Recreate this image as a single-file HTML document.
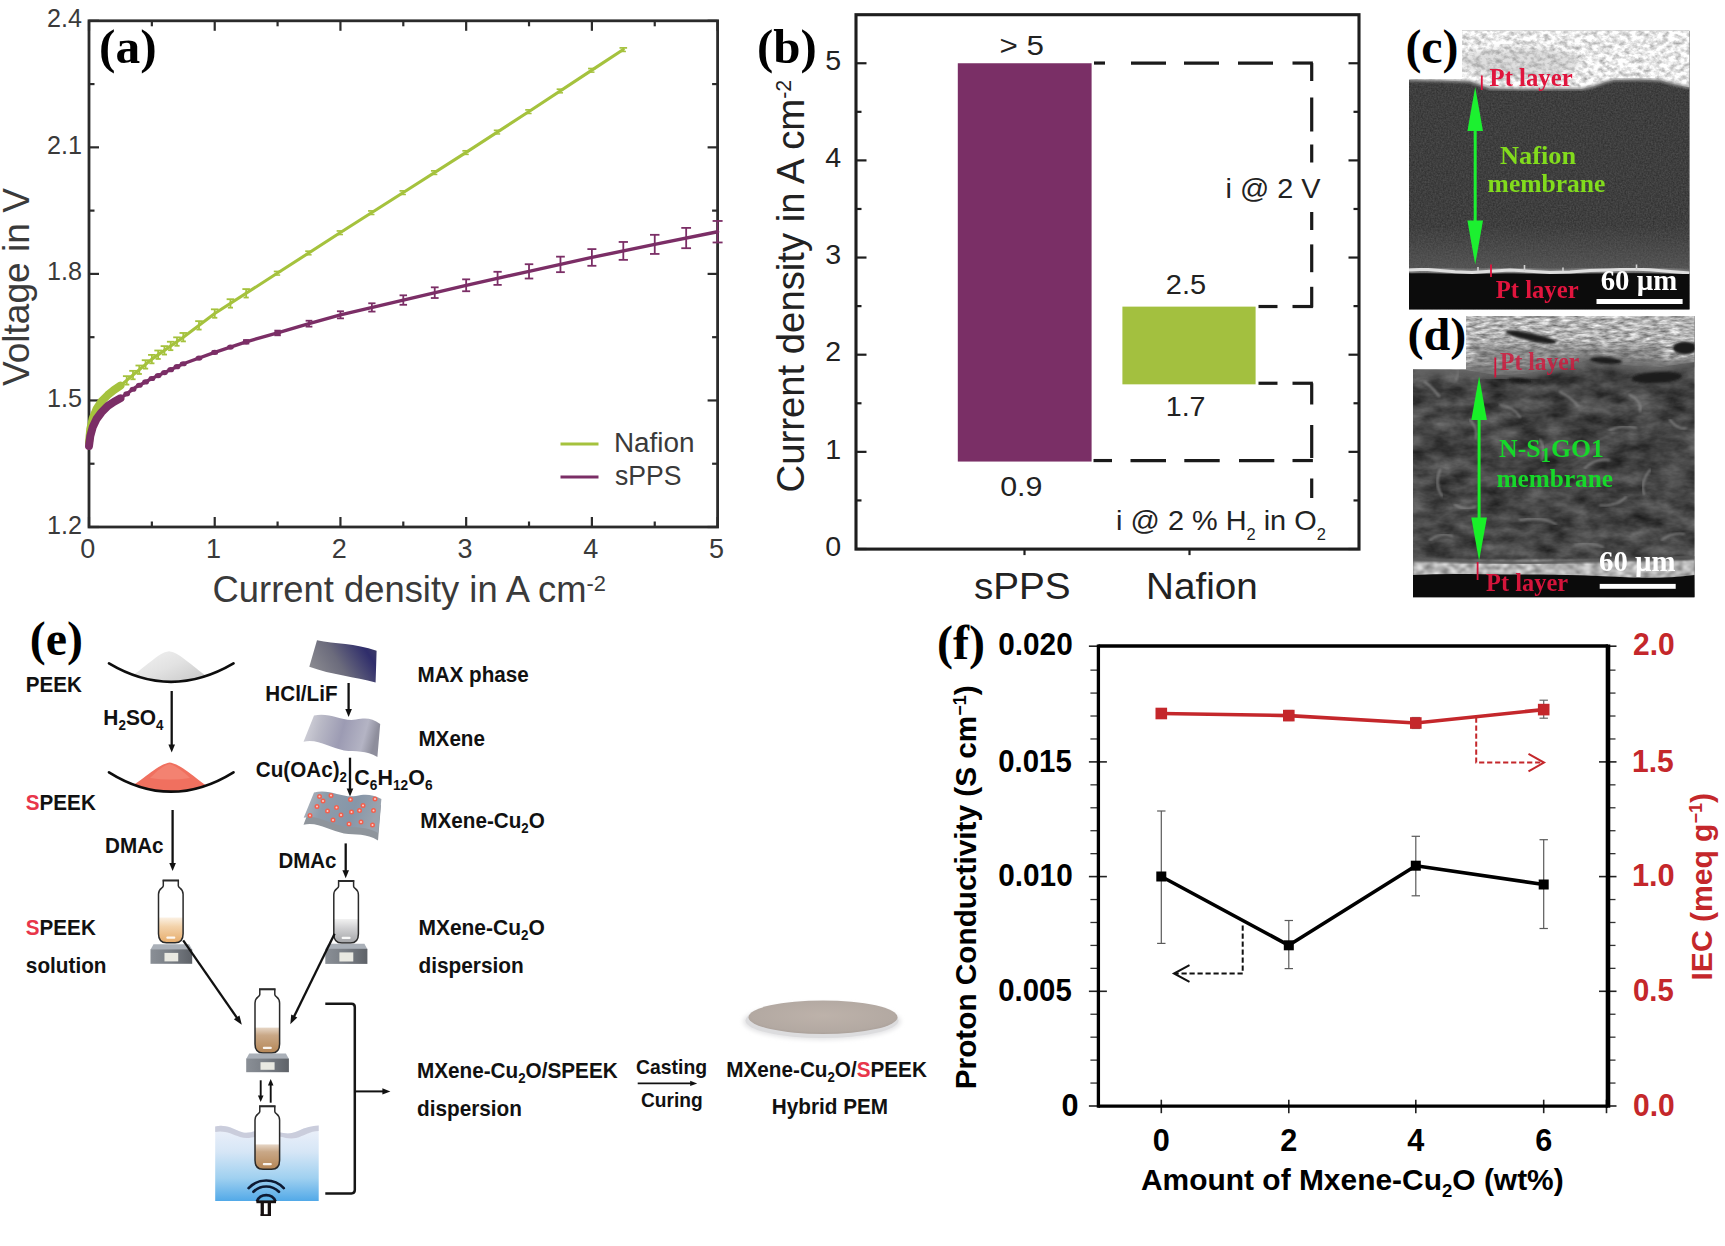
<!DOCTYPE html>
<html lang="en"><head><meta charset="utf-8"><title>Figure</title>
<style>html,body{margin:0;padding:0;background:#fff;}svg{display:block;}text{white-space:pre;}</style></head>
<body>
<svg width="1725" height="1246" viewBox="0 0 1725 1246">
<defs>
<filter id="f_ctop" x="0" y="0" width="100%" height="100%" color-interpolation-filters="sRGB">
  <feTurbulence type="fractalNoise" baseFrequency="0.16 0.22" numOctaves="3" seed="7" result="n"/>
  <feColorMatrix in="n" type="matrix" values="0.7 0 0 0 0.56  0.7 0 0 0 0.56  0.7 0 0 0 0.56  0 0 0 0 1"/>
</filter>
<filter id="f_cmem" x="0" y="0" width="100%" height="100%" color-interpolation-filters="sRGB">
  <feTurbulence type="fractalNoise" baseFrequency="0.6" numOctaves="2" seed="3" result="n"/>
  <feColorMatrix in="n" type="matrix" values="0.16 0 0 0 0.165  0.16 0 0 0 0.165  0.16 0 0 0 0.165  0 0 0 0 1"/>
</filter>
<filter id="f_dtop" x="0" y="0" width="100%" height="100%" color-interpolation-filters="sRGB">
  <feTurbulence type="fractalNoise" baseFrequency="0.1 0.32" numOctaves="3" seed="11" result="n"/>
  <feColorMatrix in="n" type="matrix" values="0.75 0 0 0 0.33  0.75 0 0 0 0.33  0.75 0 0 0 0.33  0 0 0 0 1"/>
</filter>
<filter id="f_dmem" x="0" y="0" width="100%" height="100%" color-interpolation-filters="sRGB">
  <feTurbulence type="fractalNoise" baseFrequency="0.035 0.07" numOctaves="4" seed="5" result="n"/>
  <feColorMatrix in="n" type="matrix" values="0.42 0 0 0 0.06  0.42 0 0 0 0.06  0.42 0 0 0 0.06  0 0 0 0 1"/>
</filter>
<filter id="f_dbot" x="0" y="0" width="100%" height="100%" color-interpolation-filters="sRGB">
  <feTurbulence type="fractalNoise" baseFrequency="0.12 0.3" numOctaves="3" seed="9" result="n"/>
  <feColorMatrix in="n" type="matrix" values="0.8 0 0 0 0.3  0.8 0 0 0 0.3  0.8 0 0 0 0.3  0 0 0 0 1"/>
</filter>
<filter id="blur1" x="-10%" y="-10%" width="120%" height="120%"><feGaussianBlur stdDeviation="1"/></filter>
<filter id="blur06" x="-10%" y="-10%" width="120%" height="120%"><feGaussianBlur stdDeviation="0.6"/></filter>
<filter id="blur2" x="-10%" y="-10%" width="120%" height="120%"><feGaussianBlur stdDeviation="2"/></filter>
<filter id="blur3" x="-20%" y="-20%" width="140%" height="140%"><feGaussianBlur stdDeviation="3"/></filter>
<clipPath id="clipC"><rect x="1409" y="30.8" width="280.6" height="278.8"/></clipPath>
<clipPath id="clipD"><rect x="1413" y="316" width="281.6" height="281.2"/></clipPath>
<linearGradient id="g_pow" x1="0" y1="0" x2="1" y2="1">
  <stop offset="0" stop-color="#f4f4f4"/><stop offset="0.45" stop-color="#e2e2e2"/><stop offset="1" stop-color="#bdbdbd"/>
</linearGradient>
<linearGradient id="g_liqO" x1="0" y1="0" x2="0" y2="1">
  <stop offset="0" stop-color="#fbf1e4"/><stop offset="0.35" stop-color="#f3d3ab"/><stop offset="1" stop-color="#e6ab6a"/>
</linearGradient>
<linearGradient id="g_liqG" x1="0" y1="0" x2="0" y2="1">
  <stop offset="0" stop-color="#f2f2f2"/><stop offset="0.4" stop-color="#cfcfd1"/><stop offset="1" stop-color="#a4a5a8"/>
</linearGradient>
<linearGradient id="g_liqB" x1="0" y1="0" x2="0" y2="1">
  <stop offset="0" stop-color="#e6d6c6"/><stop offset="0.3" stop-color="#c9a887"/><stop offset="1" stop-color="#b58656"/>
</linearGradient>
<linearGradient id="g_plate" x1="0" y1="0" x2="1" y2="0">
  <stop offset="0" stop-color="#8a8f96"/><stop offset="0.5" stop-color="#787d84"/><stop offset="1" stop-color="#5e6268"/>
</linearGradient>
<linearGradient id="g_max" x1="0" y1="0.6" x2="1" y2="0.2">
  <stop offset="0" stop-color="#8a8a90"/><stop offset="0.4" stop-color="#6b6b7c"/><stop offset="0.85" stop-color="#2f2d6b"/><stop offset="1" stop-color="#3c3b66"/>
</linearGradient>
<linearGradient id="g_mx" x1="0" y1="0" x2="1" y2="0.15">
  <stop offset="0" stop-color="#d9d9df"/><stop offset="0.25" stop-color="#b9b9c6"/><stop offset="0.55" stop-color="#9c9bb3"/><stop offset="0.85" stop-color="#b4b4c4"/><stop offset="1" stop-color="#8e8e9c"/>
</linearGradient>
<linearGradient id="g_mxcu" x1="0" y1="0" x2="1" y2="0.2">
  <stop offset="0" stop-color="#b4b9c0"/><stop offset="0.3" stop-color="#8e9cab"/><stop offset="0.7" stop-color="#8696a8"/><stop offset="1" stop-color="#9aa3ae"/>
</linearGradient>
<linearGradient id="g_water" x1="0" y1="0" x2="0" y2="1">
  <stop offset="0" stop-color="#eef1fa"/><stop offset="0.35" stop-color="#d6e6f6"/><stop offset="0.7" stop-color="#9fd0f0"/><stop offset="1" stop-color="#52a9e8"/>
</linearGradient>
<radialGradient id="g_disc" cx="0.5" cy="0.45" r="0.6">
  <stop offset="0" stop-color="#bdb2aa"/><stop offset="0.8" stop-color="#b3a9a2"/><stop offset="1" stop-color="#a59b95"/>
</radialGradient>
<filter id="blur04" x="-5%" y="-20%" width="110%" height="140%"><feGaussianBlur stdDeviation="0.45"/></filter>
<linearGradient id="g_cfade" x1="0" y1="0" x2="0" y2="1"><stop offset="0" stop-color="#6a6a6a" stop-opacity="0"/><stop offset="1" stop-color="#6a6a6a" stop-opacity="0.55"/></linearGradient>
</defs>
<rect width="1725" height="1246" fill="#fff"/>
<g id="panel-a">
<rect x="89.00" y="20.80" width="628.60" height="506.20" fill="none" stroke="#2b2b2b" stroke-width="2.8"/>
<line x1="89.00" y1="527.00" x2="89.00" y2="517.00" stroke="#2b2b2b" stroke-width="2.20" />
<line x1="89.00" y1="20.80" x2="89.00" y2="30.80" stroke="#2b2b2b" stroke-width="2.20" />
<line x1="151.86" y1="527.00" x2="151.86" y2="521.50" stroke="#2b2b2b" stroke-width="2.20" />
<line x1="151.86" y1="20.80" x2="151.86" y2="26.30" stroke="#2b2b2b" stroke-width="2.20" />
<line x1="214.72" y1="527.00" x2="214.72" y2="517.00" stroke="#2b2b2b" stroke-width="2.20" />
<line x1="214.72" y1="20.80" x2="214.72" y2="30.80" stroke="#2b2b2b" stroke-width="2.20" />
<line x1="277.58" y1="527.00" x2="277.58" y2="521.50" stroke="#2b2b2b" stroke-width="2.20" />
<line x1="277.58" y1="20.80" x2="277.58" y2="26.30" stroke="#2b2b2b" stroke-width="2.20" />
<line x1="340.44" y1="527.00" x2="340.44" y2="517.00" stroke="#2b2b2b" stroke-width="2.20" />
<line x1="340.44" y1="20.80" x2="340.44" y2="30.80" stroke="#2b2b2b" stroke-width="2.20" />
<line x1="403.30" y1="527.00" x2="403.30" y2="521.50" stroke="#2b2b2b" stroke-width="2.20" />
<line x1="403.30" y1="20.80" x2="403.30" y2="26.30" stroke="#2b2b2b" stroke-width="2.20" />
<line x1="466.16" y1="527.00" x2="466.16" y2="517.00" stroke="#2b2b2b" stroke-width="2.20" />
<line x1="466.16" y1="20.80" x2="466.16" y2="30.80" stroke="#2b2b2b" stroke-width="2.20" />
<line x1="529.02" y1="527.00" x2="529.02" y2="521.50" stroke="#2b2b2b" stroke-width="2.20" />
<line x1="529.02" y1="20.80" x2="529.02" y2="26.30" stroke="#2b2b2b" stroke-width="2.20" />
<line x1="591.88" y1="527.00" x2="591.88" y2="517.00" stroke="#2b2b2b" stroke-width="2.20" />
<line x1="591.88" y1="20.80" x2="591.88" y2="30.80" stroke="#2b2b2b" stroke-width="2.20" />
<line x1="654.74" y1="527.00" x2="654.74" y2="521.50" stroke="#2b2b2b" stroke-width="2.20" />
<line x1="654.74" y1="20.80" x2="654.74" y2="26.30" stroke="#2b2b2b" stroke-width="2.20" />
<line x1="717.60" y1="527.00" x2="717.60" y2="517.00" stroke="#2b2b2b" stroke-width="2.20" />
<line x1="717.60" y1="20.80" x2="717.60" y2="30.80" stroke="#2b2b2b" stroke-width="2.20" />
<line x1="89.00" y1="527.00" x2="99.00" y2="527.00" stroke="#2b2b2b" stroke-width="2.20" />
<line x1="717.60" y1="527.00" x2="707.60" y2="527.00" stroke="#2b2b2b" stroke-width="2.20" />
<line x1="89.00" y1="463.73" x2="94.50" y2="463.73" stroke="#2b2b2b" stroke-width="2.20" />
<line x1="717.60" y1="463.73" x2="712.10" y2="463.73" stroke="#2b2b2b" stroke-width="2.20" />
<line x1="89.00" y1="400.45" x2="99.00" y2="400.45" stroke="#2b2b2b" stroke-width="2.20" />
<line x1="717.60" y1="400.45" x2="707.60" y2="400.45" stroke="#2b2b2b" stroke-width="2.20" />
<line x1="89.00" y1="337.18" x2="94.50" y2="337.18" stroke="#2b2b2b" stroke-width="2.20" />
<line x1="717.60" y1="337.18" x2="712.10" y2="337.18" stroke="#2b2b2b" stroke-width="2.20" />
<line x1="89.00" y1="273.90" x2="99.00" y2="273.90" stroke="#2b2b2b" stroke-width="2.20" />
<line x1="717.60" y1="273.90" x2="707.60" y2="273.90" stroke="#2b2b2b" stroke-width="2.20" />
<line x1="89.00" y1="210.62" x2="94.50" y2="210.62" stroke="#2b2b2b" stroke-width="2.20" />
<line x1="717.60" y1="210.62" x2="712.10" y2="210.62" stroke="#2b2b2b" stroke-width="2.20" />
<line x1="89.00" y1="147.35" x2="99.00" y2="147.35" stroke="#2b2b2b" stroke-width="2.20" />
<line x1="717.60" y1="147.35" x2="707.60" y2="147.35" stroke="#2b2b2b" stroke-width="2.20" />
<line x1="89.00" y1="84.07" x2="94.50" y2="84.07" stroke="#2b2b2b" stroke-width="2.20" />
<line x1="717.60" y1="84.07" x2="712.10" y2="84.07" stroke="#2b2b2b" stroke-width="2.20" />
<line x1="89.00" y1="20.80" x2="99.00" y2="20.80" stroke="#2b2b2b" stroke-width="2.20" />
<line x1="717.60" y1="20.80" x2="707.60" y2="20.80" stroke="#2b2b2b" stroke-width="2.20" />
<text transform="translate(87.80,557.60) scale(1.0000,1)" text-anchor="middle" font-family="'Liberation Sans', Arial, Helvetica, sans-serif" font-size="27.00" font-weight="normal" fill="#3a3a3a">0</text>
<text transform="translate(213.52,557.60) scale(1.0000,1)" text-anchor="middle" font-family="'Liberation Sans', Arial, Helvetica, sans-serif" font-size="27.00" font-weight="normal" fill="#3a3a3a">1</text>
<text transform="translate(339.24,557.60) scale(1.0000,1)" text-anchor="middle" font-family="'Liberation Sans', Arial, Helvetica, sans-serif" font-size="27.00" font-weight="normal" fill="#3a3a3a">2</text>
<text transform="translate(464.96,557.60) scale(1.0000,1)" text-anchor="middle" font-family="'Liberation Sans', Arial, Helvetica, sans-serif" font-size="27.00" font-weight="normal" fill="#3a3a3a">3</text>
<text transform="translate(590.68,557.60) scale(1.0000,1)" text-anchor="middle" font-family="'Liberation Sans', Arial, Helvetica, sans-serif" font-size="27.00" font-weight="normal" fill="#3a3a3a">4</text>
<text transform="translate(716.40,557.60) scale(1.0000,1)" text-anchor="middle" font-family="'Liberation Sans', Arial, Helvetica, sans-serif" font-size="27.00" font-weight="normal" fill="#3a3a3a">5</text>
<text transform="translate(82.00,27.30) scale(0.9500,1)" text-anchor="end" font-family="'Liberation Sans', Arial, Helvetica, sans-serif" font-size="26.50" font-weight="normal" fill="#3a3a3a">2.4</text>
<text transform="translate(82.00,153.85) scale(0.9500,1)" text-anchor="end" font-family="'Liberation Sans', Arial, Helvetica, sans-serif" font-size="26.50" font-weight="normal" fill="#3a3a3a">2.1</text>
<text transform="translate(82.00,280.40) scale(0.9500,1)" text-anchor="end" font-family="'Liberation Sans', Arial, Helvetica, sans-serif" font-size="26.50" font-weight="normal" fill="#3a3a3a">1.8</text>
<text transform="translate(82.00,406.95) scale(0.9500,1)" text-anchor="end" font-family="'Liberation Sans', Arial, Helvetica, sans-serif" font-size="26.50" font-weight="normal" fill="#3a3a3a">1.5</text>
<text transform="translate(82.00,533.50) scale(0.9500,1)" text-anchor="end" font-family="'Liberation Sans', Arial, Helvetica, sans-serif" font-size="26.50" font-weight="normal" fill="#3a3a3a">1.2</text>
<text id="a_xl" transform="translate(212.51,601.60) scale(0.9969,1)" font-family="'Liberation Sans', Arial, Helvetica, sans-serif" font-size="36.50" font-weight="normal" fill="#3a3a3a" >Current density in A cm<tspan dy="-0.49em" font-size="60%">-2</tspan><tspan dy="0.294em">&#8203;</tspan></text>
<text id="a_yl" transform="translate(29.00,386.00) rotate(-90) scale(1.0077,1)" font-family="'Liberation Sans', Arial, Helvetica, sans-serif" font-size="36.80" font-weight="normal" fill="#3a3a3a" >Voltage in V</text>
<path d="M89.00,442.63 L90.26,429.13 L92.77,418.17 L96.54,408.89 L101.57,401.29 L107.86,394.97 L114.14,389.90 L120.43,385.69 L151.86,359.11 L183.29,337.18 L214.72,313.55 L277.58,273.06 L340.44,232.56 L403.30,192.49 L466.16,152.41 L529.02,111.49 L591.88,70.15 L623.31,49.48" fill="none" stroke="#a5c23d" stroke-width="3.10" stroke-linejoin="round" stroke-linecap="round"/>
<path d="M89.00,442.63 L90.26,429.13 L92.77,418.17 L96.54,408.89 L101.57,401.29 L107.86,394.97 L114.14,389.90 L120.43,385.69" fill="none" stroke="#a5c23d" stroke-width="8.00" stroke-linejoin="round" stroke-linecap="round"/>
<path d="M89.00,442.63 L90.26,429.13 L92.77,418.17 L96.54,408.89" fill="none" stroke="#a5c23d" stroke-width="5.00" stroke-linejoin="round" stroke-linecap="round"/>
<line x1="126.72" y1="384.59" x2="126.72" y2="376.15" stroke="#a5c23d" stroke-width="1.80" />
<line x1="122.92" y1="376.15" x2="130.52" y2="376.15" stroke="#a5c23d" stroke-width="1.80" />
<line x1="124.12" y1="384.59" x2="129.32" y2="384.59" stroke="#a5c23d" stroke-width="1.80" />
<line x1="133.00" y1="379.27" x2="133.00" y2="370.84" stroke="#a5c23d" stroke-width="1.80" />
<line x1="129.20" y1="370.84" x2="136.80" y2="370.84" stroke="#a5c23d" stroke-width="1.80" />
<line x1="130.40" y1="379.27" x2="135.60" y2="379.27" stroke="#a5c23d" stroke-width="1.80" />
<line x1="139.29" y1="373.96" x2="139.29" y2="365.52" stroke="#a5c23d" stroke-width="1.80" />
<line x1="135.49" y1="365.52" x2="143.09" y2="365.52" stroke="#a5c23d" stroke-width="1.80" />
<line x1="136.69" y1="373.96" x2="141.89" y2="373.96" stroke="#a5c23d" stroke-width="1.80" />
<line x1="145.57" y1="368.64" x2="145.57" y2="360.21" stroke="#a5c23d" stroke-width="1.80" />
<line x1="141.77" y1="360.21" x2="149.37" y2="360.21" stroke="#a5c23d" stroke-width="1.80" />
<line x1="142.97" y1="368.64" x2="148.17" y2="368.64" stroke="#a5c23d" stroke-width="1.80" />
<line x1="151.86" y1="363.33" x2="151.86" y2="354.89" stroke="#a5c23d" stroke-width="1.80" />
<line x1="148.06" y1="354.89" x2="155.66" y2="354.89" stroke="#a5c23d" stroke-width="1.80" />
<line x1="149.26" y1="363.33" x2="154.46" y2="363.33" stroke="#a5c23d" stroke-width="1.80" />
<line x1="158.15" y1="358.94" x2="158.15" y2="350.50" stroke="#a5c23d" stroke-width="1.80" />
<line x1="154.35" y1="350.50" x2="161.95" y2="350.50" stroke="#a5c23d" stroke-width="1.80" />
<line x1="155.55" y1="358.94" x2="160.75" y2="358.94" stroke="#a5c23d" stroke-width="1.80" />
<line x1="164.43" y1="354.55" x2="164.43" y2="346.12" stroke="#a5c23d" stroke-width="1.80" />
<line x1="160.63" y1="346.12" x2="168.23" y2="346.12" stroke="#a5c23d" stroke-width="1.80" />
<line x1="161.83" y1="354.55" x2="167.03" y2="354.55" stroke="#a5c23d" stroke-width="1.80" />
<line x1="170.72" y1="350.17" x2="170.72" y2="341.73" stroke="#a5c23d" stroke-width="1.80" />
<line x1="166.92" y1="341.73" x2="174.52" y2="341.73" stroke="#a5c23d" stroke-width="1.80" />
<line x1="168.12" y1="350.17" x2="173.32" y2="350.17" stroke="#a5c23d" stroke-width="1.80" />
<line x1="177.00" y1="345.78" x2="177.00" y2="337.34" stroke="#a5c23d" stroke-width="1.80" />
<line x1="173.20" y1="337.34" x2="180.80" y2="337.34" stroke="#a5c23d" stroke-width="1.80" />
<line x1="174.40" y1="345.78" x2="179.60" y2="345.78" stroke="#a5c23d" stroke-width="1.80" />
<line x1="183.29" y1="341.39" x2="183.29" y2="332.96" stroke="#a5c23d" stroke-width="1.80" />
<line x1="179.49" y1="332.96" x2="187.09" y2="332.96" stroke="#a5c23d" stroke-width="1.80" />
<line x1="180.69" y1="341.39" x2="185.89" y2="341.39" stroke="#a5c23d" stroke-width="1.80" />
<line x1="199.00" y1="329.58" x2="199.00" y2="321.15" stroke="#a5c23d" stroke-width="1.80" />
<line x1="195.20" y1="321.15" x2="202.81" y2="321.15" stroke="#a5c23d" stroke-width="1.80" />
<line x1="196.41" y1="329.58" x2="201.60" y2="329.58" stroke="#a5c23d" stroke-width="1.80" />
<line x1="214.72" y1="317.77" x2="214.72" y2="309.33" stroke="#a5c23d" stroke-width="1.80" />
<line x1="210.92" y1="309.33" x2="218.52" y2="309.33" stroke="#a5c23d" stroke-width="1.80" />
<line x1="212.12" y1="317.77" x2="217.32" y2="317.77" stroke="#a5c23d" stroke-width="1.80" />
<line x1="230.44" y1="307.65" x2="230.44" y2="299.21" stroke="#a5c23d" stroke-width="1.80" />
<line x1="226.63" y1="299.21" x2="234.24" y2="299.21" stroke="#a5c23d" stroke-width="1.80" />
<line x1="227.84" y1="307.65" x2="233.03" y2="307.65" stroke="#a5c23d" stroke-width="1.80" />
<line x1="246.15" y1="297.52" x2="246.15" y2="289.09" stroke="#a5c23d" stroke-width="1.80" />
<line x1="242.35" y1="289.09" x2="249.95" y2="289.09" stroke="#a5c23d" stroke-width="1.80" />
<line x1="243.55" y1="297.52" x2="248.75" y2="297.52" stroke="#a5c23d" stroke-width="1.80" />
<line x1="273.78" y1="271.46" x2="281.38" y2="271.46" stroke="#a5c23d" stroke-width="1.70" />
<line x1="274.98" y1="275.06" x2="280.18" y2="275.06" stroke="#a5c23d" stroke-width="1.50" />
<line x1="305.21" y1="251.21" x2="312.81" y2="251.21" stroke="#a5c23d" stroke-width="1.70" />
<line x1="306.41" y1="254.81" x2="311.61" y2="254.81" stroke="#a5c23d" stroke-width="1.50" />
<line x1="336.64" y1="230.96" x2="344.24" y2="230.96" stroke="#a5c23d" stroke-width="1.70" />
<line x1="337.84" y1="234.56" x2="343.04" y2="234.56" stroke="#a5c23d" stroke-width="1.50" />
<line x1="368.07" y1="210.92" x2="375.67" y2="210.92" stroke="#a5c23d" stroke-width="1.70" />
<line x1="369.27" y1="214.52" x2="374.47" y2="214.52" stroke="#a5c23d" stroke-width="1.50" />
<line x1="399.50" y1="190.89" x2="407.10" y2="190.89" stroke="#a5c23d" stroke-width="1.70" />
<line x1="400.70" y1="194.49" x2="405.90" y2="194.49" stroke="#a5c23d" stroke-width="1.50" />
<line x1="430.93" y1="170.85" x2="438.53" y2="170.85" stroke="#a5c23d" stroke-width="1.70" />
<line x1="432.13" y1="174.45" x2="437.33" y2="174.45" stroke="#a5c23d" stroke-width="1.50" />
<line x1="462.36" y1="150.81" x2="469.96" y2="150.81" stroke="#a5c23d" stroke-width="1.70" />
<line x1="463.56" y1="154.41" x2="468.76" y2="154.41" stroke="#a5c23d" stroke-width="1.50" />
<line x1="493.79" y1="130.35" x2="501.39" y2="130.35" stroke="#a5c23d" stroke-width="1.70" />
<line x1="494.99" y1="133.95" x2="500.19" y2="133.95" stroke="#a5c23d" stroke-width="1.50" />
<line x1="525.22" y1="109.89" x2="532.82" y2="109.89" stroke="#a5c23d" stroke-width="1.70" />
<line x1="526.42" y1="113.49" x2="531.62" y2="113.49" stroke="#a5c23d" stroke-width="1.50" />
<line x1="556.65" y1="89.22" x2="564.25" y2="89.22" stroke="#a5c23d" stroke-width="1.70" />
<line x1="557.85" y1="92.82" x2="563.05" y2="92.82" stroke="#a5c23d" stroke-width="1.50" />
<line x1="588.08" y1="68.55" x2="595.68" y2="68.55" stroke="#a5c23d" stroke-width="1.70" />
<line x1="589.28" y1="72.15" x2="594.48" y2="72.15" stroke="#a5c23d" stroke-width="1.50" />
<line x1="619.51" y1="47.88" x2="627.11" y2="47.88" stroke="#a5c23d" stroke-width="1.70" />
<line x1="620.71" y1="51.48" x2="625.91" y2="51.48" stroke="#a5c23d" stroke-width="1.50" />
<path d="M89.00,446.01 L90.26,436.31 L92.77,427.03 L96.54,419.01 L101.57,412.26 L107.86,405.93 L114.14,401.72 L120.43,398.34 L136.15,386.95 L151.86,378.51 L183.29,363.75 L214.72,352.36 L246.15,341.82 L277.58,332.96 L309.01,323.68 L340.44,314.82 L403.30,300.05 L466.16,285.29 L529.02,271.37 L591.88,257.45 L654.74,244.37 L717.60,231.72" fill="none" stroke="#7b2e66" stroke-width="3.40" stroke-linejoin="round" stroke-linecap="round"/>
<path d="M89.00,446.01 L90.26,436.31 L92.77,427.03 L96.54,419.01 L101.57,412.26 L107.86,405.93 L114.14,401.72 L120.43,398.34" fill="none" stroke="#7b2e66" stroke-width="8.00" stroke-linejoin="round" stroke-linecap="round"/>
<path d="M89.00,446.01 L90.26,436.31 L92.77,427.03 L96.54,419.01" fill="none" stroke="#7b2e66" stroke-width="5.50" stroke-linejoin="round" stroke-linecap="round"/>
<line x1="151.86" y1="379.36" x2="151.86" y2="377.67" stroke="#7b2e66" stroke-width="1.80" />
<line x1="149.11" y1="377.67" x2="154.61" y2="377.67" stroke="#7b2e66" stroke-width="1.80" />
<line x1="149.11" y1="379.36" x2="154.61" y2="379.36" stroke="#7b2e66" stroke-width="1.80" />
<line x1="183.29" y1="364.59" x2="183.29" y2="362.91" stroke="#7b2e66" stroke-width="1.80" />
<line x1="180.42" y1="362.91" x2="186.17" y2="362.91" stroke="#7b2e66" stroke-width="1.80" />
<line x1="180.42" y1="364.59" x2="186.17" y2="364.59" stroke="#7b2e66" stroke-width="1.80" />
<line x1="214.72" y1="353.50" x2="214.72" y2="351.22" stroke="#7b2e66" stroke-width="1.80" />
<line x1="211.72" y1="351.22" x2="217.72" y2="351.22" stroke="#7b2e66" stroke-width="1.80" />
<line x1="211.72" y1="353.50" x2="217.72" y2="353.50" stroke="#7b2e66" stroke-width="1.80" />
<line x1="246.15" y1="343.56" x2="246.15" y2="340.08" stroke="#7b2e66" stroke-width="1.80" />
<line x1="243.03" y1="340.08" x2="249.28" y2="340.08" stroke="#7b2e66" stroke-width="1.80" />
<line x1="243.03" y1="343.56" x2="249.28" y2="343.56" stroke="#7b2e66" stroke-width="1.80" />
<line x1="277.58" y1="335.30" x2="277.58" y2="330.62" stroke="#7b2e66" stroke-width="1.80" />
<line x1="274.33" y1="330.62" x2="280.83" y2="330.62" stroke="#7b2e66" stroke-width="1.80" />
<line x1="274.33" y1="335.30" x2="280.83" y2="335.30" stroke="#7b2e66" stroke-width="1.80" />
<line x1="309.01" y1="326.62" x2="309.01" y2="320.73" stroke="#7b2e66" stroke-width="1.80" />
<line x1="305.63" y1="320.73" x2="312.38" y2="320.73" stroke="#7b2e66" stroke-width="1.80" />
<line x1="305.63" y1="326.62" x2="312.38" y2="326.62" stroke="#7b2e66" stroke-width="1.80" />
<line x1="340.44" y1="318.36" x2="340.44" y2="311.27" stroke="#7b2e66" stroke-width="1.80" />
<line x1="336.94" y1="311.27" x2="343.94" y2="311.27" stroke="#7b2e66" stroke-width="1.80" />
<line x1="336.94" y1="318.36" x2="343.94" y2="318.36" stroke="#7b2e66" stroke-width="1.80" />
<line x1="371.87" y1="311.58" x2="371.87" y2="303.29" stroke="#7b2e66" stroke-width="1.80" />
<line x1="368.25" y1="303.29" x2="375.50" y2="303.29" stroke="#7b2e66" stroke-width="1.80" />
<line x1="368.25" y1="311.58" x2="375.50" y2="311.58" stroke="#7b2e66" stroke-width="1.80" />
<line x1="403.30" y1="304.80" x2="403.30" y2="295.31" stroke="#7b2e66" stroke-width="1.80" />
<line x1="399.55" y1="295.31" x2="407.05" y2="295.31" stroke="#7b2e66" stroke-width="1.80" />
<line x1="399.55" y1="304.80" x2="407.05" y2="304.80" stroke="#7b2e66" stroke-width="1.80" />
<line x1="434.73" y1="298.02" x2="434.73" y2="287.32" stroke="#7b2e66" stroke-width="1.80" />
<line x1="430.86" y1="287.32" x2="438.61" y2="287.32" stroke="#7b2e66" stroke-width="1.80" />
<line x1="430.86" y1="298.02" x2="438.61" y2="298.02" stroke="#7b2e66" stroke-width="1.80" />
<line x1="466.16" y1="291.24" x2="466.16" y2="279.34" stroke="#7b2e66" stroke-width="1.80" />
<line x1="462.16" y1="279.34" x2="470.16" y2="279.34" stroke="#7b2e66" stroke-width="1.80" />
<line x1="462.16" y1="291.24" x2="470.16" y2="291.24" stroke="#7b2e66" stroke-width="1.80" />
<line x1="497.59" y1="284.88" x2="497.59" y2="271.78" stroke="#7b2e66" stroke-width="1.80" />
<line x1="493.47" y1="271.78" x2="501.72" y2="271.78" stroke="#7b2e66" stroke-width="1.80" />
<line x1="493.47" y1="284.88" x2="501.72" y2="284.88" stroke="#7b2e66" stroke-width="1.80" />
<line x1="529.02" y1="278.52" x2="529.02" y2="264.22" stroke="#7b2e66" stroke-width="1.80" />
<line x1="524.77" y1="264.22" x2="533.27" y2="264.22" stroke="#7b2e66" stroke-width="1.80" />
<line x1="524.77" y1="278.52" x2="533.27" y2="278.52" stroke="#7b2e66" stroke-width="1.80" />
<line x1="560.45" y1="272.16" x2="560.45" y2="256.66" stroke="#7b2e66" stroke-width="1.80" />
<line x1="556.08" y1="256.66" x2="564.83" y2="256.66" stroke="#7b2e66" stroke-width="1.80" />
<line x1="556.08" y1="272.16" x2="564.83" y2="272.16" stroke="#7b2e66" stroke-width="1.80" />
<line x1="591.88" y1="265.80" x2="591.88" y2="249.10" stroke="#7b2e66" stroke-width="1.80" />
<line x1="587.38" y1="249.10" x2="596.38" y2="249.10" stroke="#7b2e66" stroke-width="1.80" />
<line x1="587.38" y1="265.80" x2="596.38" y2="265.80" stroke="#7b2e66" stroke-width="1.80" />
<line x1="623.31" y1="259.86" x2="623.31" y2="241.96" stroke="#7b2e66" stroke-width="1.80" />
<line x1="618.69" y1="241.96" x2="627.94" y2="241.96" stroke="#7b2e66" stroke-width="1.80" />
<line x1="618.69" y1="259.86" x2="627.94" y2="259.86" stroke="#7b2e66" stroke-width="1.80" />
<line x1="654.74" y1="253.93" x2="654.74" y2="234.82" stroke="#7b2e66" stroke-width="1.80" />
<line x1="649.99" y1="234.82" x2="659.49" y2="234.82" stroke="#7b2e66" stroke-width="1.80" />
<line x1="649.99" y1="253.93" x2="659.49" y2="253.93" stroke="#7b2e66" stroke-width="1.80" />
<line x1="686.17" y1="248.20" x2="686.17" y2="227.89" stroke="#7b2e66" stroke-width="1.80" />
<line x1="681.29" y1="227.89" x2="691.04" y2="227.89" stroke="#7b2e66" stroke-width="1.80" />
<line x1="681.29" y1="248.20" x2="691.04" y2="248.20" stroke="#7b2e66" stroke-width="1.80" />
<line x1="717.60" y1="242.47" x2="717.60" y2="220.96" stroke="#7b2e66" stroke-width="1.80" />
<line x1="712.60" y1="220.96" x2="722.60" y2="220.96" stroke="#7b2e66" stroke-width="1.80" />
<line x1="712.60" y1="242.47" x2="722.60" y2="242.47" stroke="#7b2e66" stroke-width="1.80" />
<ellipse cx="126.72" cy="393.79" rx="3.4" ry="2.6" fill="#7b2e66"/>
<ellipse cx="133.00" cy="389.23" rx="3.4" ry="2.6" fill="#7b2e66"/>
<ellipse cx="139.29" cy="385.26" rx="3.4" ry="2.6" fill="#7b2e66"/>
<ellipse cx="145.57" cy="381.89" rx="3.4" ry="2.6" fill="#7b2e66"/>
<ellipse cx="151.86" cy="378.51" rx="3.4" ry="2.6" fill="#7b2e66"/>
<ellipse cx="158.15" cy="375.56" rx="3.4" ry="2.6" fill="#7b2e66"/>
<ellipse cx="164.43" cy="372.61" rx="3.4" ry="2.6" fill="#7b2e66"/>
<ellipse cx="170.72" cy="369.66" rx="3.4" ry="2.6" fill="#7b2e66"/>
<ellipse cx="177.00" cy="366.70" rx="3.4" ry="2.6" fill="#7b2e66"/>
<ellipse cx="183.29" cy="363.75" rx="3.4" ry="2.6" fill="#7b2e66"/>
<ellipse cx="199.00" cy="358.06" rx="3.4" ry="2.6" fill="#7b2e66"/>
<ellipse cx="214.72" cy="352.36" rx="3.4" ry="2.6" fill="#7b2e66"/>
<ellipse cx="230.44" cy="347.09" rx="3.4" ry="2.6" fill="#7b2e66"/>
<ellipse cx="246.15" cy="341.82" rx="3.4" ry="2.6" fill="#7b2e66"/>
<ellipse cx="277.58" cy="332.96" rx="3.4" ry="2.6" fill="#7b2e66"/>
<line x1="560.50" y1="444.00" x2="598.50" y2="444.00" stroke="#a5c23d" stroke-width="3.00" />
<line x1="560.50" y1="477.10" x2="598.50" y2="477.10" stroke="#7b2e66" stroke-width="3.00" />
<text id="a_l1" transform="translate(613.93,452.00) scale(1.0338,1)" font-family="'Liberation Sans', Arial, Helvetica, sans-serif" font-size="27.00" font-weight="normal" fill="#3a3a3a" >Nafion</text>
<text id="a_l2" transform="translate(615.02,484.50) scale(0.9846,1)" font-family="'Liberation Sans', Arial, Helvetica, sans-serif" font-size="27.00" font-weight="normal" fill="#3a3a3a" >sPPS</text>
<text id="lab_a" transform="translate(99.12,63.20) scale(1.0412,1)" font-family="'Liberation Serif', 'Times New Roman', serif" font-size="47.50" font-weight="bold" fill="#000" >(a)</text>
</g>
<g id="panel-b">
<rect x="856.00" y="14.70" width="503.00" height="534.40" fill="none" stroke="#1e1e1e" stroke-width="3.1"/>
<line x1="856.00" y1="549.00" x2="866.50" y2="549.00" stroke="#1e1e1e" stroke-width="2.20" />
<line x1="1359.00" y1="549.00" x2="1348.50" y2="549.00" stroke="#1e1e1e" stroke-width="2.20" />
<line x1="856.00" y1="500.43" x2="861.50" y2="500.43" stroke="#1e1e1e" stroke-width="2.20" />
<line x1="1359.00" y1="500.43" x2="1353.50" y2="500.43" stroke="#1e1e1e" stroke-width="2.20" />
<line x1="856.00" y1="451.85" x2="866.50" y2="451.85" stroke="#1e1e1e" stroke-width="2.20" />
<line x1="1359.00" y1="451.85" x2="1348.50" y2="451.85" stroke="#1e1e1e" stroke-width="2.20" />
<line x1="856.00" y1="403.27" x2="861.50" y2="403.27" stroke="#1e1e1e" stroke-width="2.20" />
<line x1="1359.00" y1="403.27" x2="1353.50" y2="403.27" stroke="#1e1e1e" stroke-width="2.20" />
<line x1="856.00" y1="354.70" x2="866.50" y2="354.70" stroke="#1e1e1e" stroke-width="2.20" />
<line x1="1359.00" y1="354.70" x2="1348.50" y2="354.70" stroke="#1e1e1e" stroke-width="2.20" />
<line x1="856.00" y1="306.12" x2="861.50" y2="306.12" stroke="#1e1e1e" stroke-width="2.20" />
<line x1="1359.00" y1="306.12" x2="1353.50" y2="306.12" stroke="#1e1e1e" stroke-width="2.20" />
<line x1="856.00" y1="257.55" x2="866.50" y2="257.55" stroke="#1e1e1e" stroke-width="2.20" />
<line x1="1359.00" y1="257.55" x2="1348.50" y2="257.55" stroke="#1e1e1e" stroke-width="2.20" />
<line x1="856.00" y1="208.97" x2="861.50" y2="208.97" stroke="#1e1e1e" stroke-width="2.20" />
<line x1="1359.00" y1="208.97" x2="1353.50" y2="208.97" stroke="#1e1e1e" stroke-width="2.20" />
<line x1="856.00" y1="160.40" x2="866.50" y2="160.40" stroke="#1e1e1e" stroke-width="2.20" />
<line x1="1359.00" y1="160.40" x2="1348.50" y2="160.40" stroke="#1e1e1e" stroke-width="2.20" />
<line x1="856.00" y1="111.82" x2="861.50" y2="111.82" stroke="#1e1e1e" stroke-width="2.20" />
<line x1="1359.00" y1="111.82" x2="1353.50" y2="111.82" stroke="#1e1e1e" stroke-width="2.20" />
<line x1="856.00" y1="63.25" x2="866.50" y2="63.25" stroke="#1e1e1e" stroke-width="2.20" />
<line x1="1359.00" y1="63.25" x2="1348.50" y2="63.25" stroke="#1e1e1e" stroke-width="2.20" />
<line x1="1024.50" y1="549.10" x2="1024.50" y2="555.10" stroke="#1e1e1e" stroke-width="2.20" />
<line x1="1189.50" y1="549.10" x2="1189.50" y2="555.10" stroke="#1e1e1e" stroke-width="2.20" />
<text transform="translate(833.10,555.70) scale(1.0400,1)" text-anchor="middle" font-family="'Liberation Sans', Arial, Helvetica, sans-serif" font-size="27.50" font-weight="normal" fill="#222">0</text>
<text transform="translate(833.10,458.55) scale(1.0400,1)" text-anchor="middle" font-family="'Liberation Sans', Arial, Helvetica, sans-serif" font-size="27.50" font-weight="normal" fill="#222">1</text>
<text transform="translate(833.10,361.40) scale(1.0400,1)" text-anchor="middle" font-family="'Liberation Sans', Arial, Helvetica, sans-serif" font-size="27.50" font-weight="normal" fill="#222">2</text>
<text transform="translate(833.10,264.25) scale(1.0400,1)" text-anchor="middle" font-family="'Liberation Sans', Arial, Helvetica, sans-serif" font-size="27.50" font-weight="normal" fill="#222">3</text>
<text transform="translate(833.10,167.10) scale(1.0400,1)" text-anchor="middle" font-family="'Liberation Sans', Arial, Helvetica, sans-serif" font-size="27.50" font-weight="normal" fill="#222">4</text>
<text transform="translate(833.10,69.95) scale(1.0400,1)" text-anchor="middle" font-family="'Liberation Sans', Arial, Helvetica, sans-serif" font-size="27.50" font-weight="normal" fill="#222">5</text>
<rect x="957.80" y="63.25" width="133.80" height="398.31" fill="#7a2f66" />
<rect x="1122.40" y="306.62" width="133.20" height="77.72" fill="#a3c03f" />
<line x1="1094.00" y1="63.05" x2="1105.00" y2="63.05" stroke="#1a1a1a" stroke-width="3.20" />
<line x1="1131.00" y1="63.05" x2="1166.00" y2="63.05" stroke="#1a1a1a" stroke-width="3.20" />
<line x1="1184.00" y1="63.05" x2="1219.00" y2="63.05" stroke="#1a1a1a" stroke-width="3.20" />
<line x1="1238.00" y1="63.05" x2="1273.00" y2="63.05" stroke="#1a1a1a" stroke-width="3.20" />
<line x1="1292.50" y1="63.05" x2="1312.90" y2="63.05" stroke="#1a1a1a" stroke-width="3.20" />
<line x1="1311.70" y1="63.05" x2="1311.70" y2="81.00" stroke="#1a1a1a" stroke-width="3.20" />
<line x1="1311.70" y1="97.50" x2="1311.70" y2="131.50" stroke="#1a1a1a" stroke-width="3.20" />
<line x1="1311.70" y1="144.50" x2="1311.70" y2="162.50" stroke="#1a1a1a" stroke-width="3.20" />
<line x1="1311.70" y1="212.00" x2="1311.70" y2="230.00" stroke="#1a1a1a" stroke-width="3.20" />
<line x1="1311.70" y1="244.40" x2="1311.70" y2="272.20" stroke="#1a1a1a" stroke-width="3.20" />
<line x1="1311.70" y1="286.80" x2="1311.70" y2="307.32" stroke="#1a1a1a" stroke-width="3.20" />
<line x1="1258.50" y1="306.52" x2="1277.50" y2="306.52" stroke="#1a1a1a" stroke-width="3.20" />
<line x1="1292.50" y1="306.52" x2="1312.90" y2="306.52" stroke="#1a1a1a" stroke-width="3.20" />
<line x1="1258.50" y1="383.25" x2="1277.50" y2="383.25" stroke="#1a1a1a" stroke-width="3.20" />
<line x1="1292.50" y1="383.25" x2="1312.90" y2="383.25" stroke="#1a1a1a" stroke-width="3.20" />
<line x1="1311.70" y1="383.25" x2="1311.70" y2="404.50" stroke="#1a1a1a" stroke-width="3.20" />
<line x1="1311.70" y1="425.00" x2="1311.70" y2="458.00" stroke="#1a1a1a" stroke-width="3.20" />
<line x1="1311.70" y1="478.50" x2="1311.70" y2="498.00" stroke="#1a1a1a" stroke-width="3.20" />
<line x1="1093.50" y1="460.56" x2="1112.00" y2="460.56" stroke="#1a1a1a" stroke-width="3.20" />
<line x1="1130.50" y1="460.56" x2="1166.00" y2="460.56" stroke="#1a1a1a" stroke-width="3.20" />
<line x1="1184.30" y1="460.56" x2="1219.70" y2="460.56" stroke="#1a1a1a" stroke-width="3.20" />
<line x1="1239.00" y1="460.56" x2="1274.30" y2="460.56" stroke="#1a1a1a" stroke-width="3.20" />
<line x1="1292.50" y1="460.56" x2="1312.90" y2="460.56" stroke="#1a1a1a" stroke-width="3.20" />
<text id="b_v1" transform="translate(999.46,55.00) scale(1.1405,1)" font-family="'Liberation Sans', Arial, Helvetica, sans-serif" font-size="27.50" font-weight="normal" fill="#222" >&gt; 5</text>
<text id="b_v2" transform="translate(1165.84,294.00) scale(1.0556,1)" font-family="'Liberation Sans', Arial, Helvetica, sans-serif" font-size="27.50" font-weight="normal" fill="#222" >2.5</text>
<text id="b_v3" transform="translate(1165.71,416.30) scale(1.0429,1)" font-family="'Liberation Sans', Arial, Helvetica, sans-serif" font-size="27.50" font-weight="normal" fill="#222" >1.7</text>
<text id="b_v4" transform="translate(1000.19,496.30) scale(1.1056,1)" font-family="'Liberation Sans', Arial, Helvetica, sans-serif" font-size="27.50" font-weight="normal" fill="#222" >0.9</text>
<text id="b_n1" transform="translate(1225.60,198.00) scale(1.0489,1)" font-family="'Liberation Sans', Arial, Helvetica, sans-serif" font-size="27.50" font-weight="normal" fill="#222" >i @ 2 V</text>
<text id="b_n2" transform="translate(1116.10,530.40) scale(1.0508,1)" font-family="'Liberation Sans', Arial, Helvetica, sans-serif" font-size="27.50" font-weight="normal" fill="#222" >i @ 2 % H<tspan dy="0.62em" font-size="57%">2</tspan><tspan dy="-0.360em">&#8203;</tspan> in O<tspan dy="0.62em" font-size="57%">2</tspan><tspan dy="-0.360em">&#8203;</tspan></text>
<text id="b_c1" transform="translate(973.95,598.50) scale(1.0506,1)" font-family="'Liberation Sans', Arial, Helvetica, sans-serif" font-size="36.80" font-weight="normal" fill="#222" >sPPS</text>
<text id="b_c2" transform="translate(1146.05,598.50) scale(1.0495,1)" font-family="'Liberation Sans', Arial, Helvetica, sans-serif" font-size="36.80" font-weight="normal" fill="#222" >Nafion</text>
<text id="b_yl" transform="translate(804.20,492.52) rotate(-90) scale(1.0081,1)" font-family="'Liberation Sans', Arial, Helvetica, sans-serif" font-size="38.00" font-weight="normal" fill="#222" >Current density in A cm<tspan dy="-0.60em" font-size="56%">-2</tspan><tspan dy="0.342em">&#8203;</tspan></text>
<text id="lab_b" transform="translate(756.94,63.00) scale(1.0296,1)" font-family="'Liberation Serif', 'Times New Roman', serif" font-size="47.50" font-weight="bold" fill="#000" >(b)</text>
</g>
<g id="panel-c">
<g clip-path="url(#clipC)">
<rect x="1409.0" y="30.8" width="280.6" height="278.8" filter="url(#f_cmem)"/>
<rect x="1409.0" y="225" width="280.6" height="48" fill="url(#g_cfade)"/>
<clipPath id="clipCtop"><path d="M1409,30 L1409.0,80.0 L1440.0,80.5 L1470.0,81.5 L1480.0,85.0 L1490.0,88.6 L1520.0,89.3 L1560.0,89.0 L1582.0,89.0 L1593.0,86.5 L1604.0,82.5 L1614.0,80.0 L1640.0,79.5 L1661.0,80.5 L1675.0,84.5 L1689.6,87.6 L1689.6,30 Z"/></clipPath>
<g clip-path="url(#clipCtop)"><rect x="1409.0" y="30.8" width="280.6" height="62" filter="url(#f_ctop)"/>
<ellipse cx="1520" cy="62" rx="60" ry="14" fill="#888" opacity="0.28" filter="url(#blur3)"/>
</g>
<path d="M1409.0,80.0 L1440.0,80.5 L1470.0,81.5 L1480.0,85.0 L1490.0,88.6 L1520.0,89.3 L1560.0,89.0 L1582.0,89.0 L1593.0,86.5 L1604.0,82.5 L1614.0,80.0 L1640.0,79.5 L1661.0,80.5 L1675.0,84.5 L1689.6,87.6" fill="none" stroke="#909090" stroke-width="3.00" filter="url(#blur1)" opacity="0.9"/>
<rect x="1409.00" y="273.00" width="280.60" height="36.60" fill="#0c0c0c" />
<path d="M1409.0,270.0 L1425.0,269.2 L1440.0,270.6 L1455.0,271.8 L1472.0,272.6 L1490.0,271.2 L1510.0,270.0 L1530.0,271.2 L1550.0,272.6 L1570.0,272.0 L1590.0,270.6 L1610.0,270.0 L1630.0,269.0 L1650.0,269.8 L1670.0,271.6 L1689.6,273.0" fill="none" stroke="#9a9a9a" stroke-width="6.00" filter="url(#blur1)" stroke-linejoin="round" opacity="0.7"/>
<path d="M1409.0,270.0 L1425.0,269.2 L1440.0,270.6 L1455.0,271.8 L1472.0,272.6 L1490.0,271.2 L1510.0,270.0 L1530.0,271.2 L1550.0,272.6 L1570.0,272.0 L1590.0,270.6 L1610.0,270.0 L1630.0,269.0 L1650.0,269.8 L1670.0,271.6 L1689.6,273.0" fill="none" stroke="#dedede" stroke-width="3.00" filter="url(#blur06)" stroke-linejoin="round"/>
<line x1="1524.50" y1="265.00" x2="1524.50" y2="271.00" stroke="#d0d0d0" stroke-width="1.60" />
<line x1="1563.00" y1="267.50" x2="1563.00" y2="271.00" stroke="#d0d0d0" stroke-width="1.60" />
<line x1="1636.50" y1="264.50" x2="1636.50" y2="271.00" stroke="#d0d0d0" stroke-width="1.60" />
<line x1="1478.00" y1="267.00" x2="1478.00" y2="271.00" stroke="#d0d0d0" stroke-width="1.60" />
</g>
<rect x="1408.00" y="29.80" width="54.00" height="49.20" fill="#fff" />
<line x1="1475.20" y1="122.20" x2="1475.20" y2="229.30" stroke="#1cf030" stroke-width="3.00" />
<polygon points="1475.2,87.0 1467.4,131.0 1483.0,131.0" fill="#1cf030"/>
<polygon points="1475.2,264.5 1467.4,220.5 1483.0,220.5" fill="#1cf030"/>
<line x1="1481.80" y1="75.50" x2="1481.80" y2="90.00" stroke="#e0123c" stroke-width="1.80" />
<line x1="1491.00" y1="264.50" x2="1491.00" y2="277.00" stroke="#e0123c" stroke-width="1.80" />
<text id="c_pt1" transform="translate(1489.60,85.90) scale(0.9964,1)" font-family="'Liberation Serif', 'Times New Roman', serif" font-size="24.80" font-weight="bold" fill="#e0123c" filter="url(#blur04)">Pt layer</text>
<text id="c_pt2" transform="translate(1495.70,298.00) scale(0.9952,1)" font-family="'Liberation Serif', 'Times New Roman', serif" font-size="24.80" font-weight="bold" fill="#e0123c" filter="url(#blur04)">Pt layer</text>
<text id="c_n1" transform="translate(1500.00,163.80) scale(1.0203,1)" font-family="'Liberation Serif', 'Times New Roman', serif" font-size="25.80" font-weight="bold" fill="#82dc1e" filter="url(#blur04)">Nafion</text>
<text id="c_n2" transform="translate(1487.61,192.00) scale(0.9906,1)" font-family="'Liberation Serif', 'Times New Roman', serif" font-size="25.80" font-weight="bold" fill="#82dc1e" filter="url(#blur04)">membrane</text>
<text id="c_sc" transform="translate(1600.69,289.60) scale(1.0108,1)" font-family="'Liberation Serif', 'Times New Roman', serif" font-size="28.50" font-weight="bold" fill="#fff" filter="url(#blur04)">60 µm</text>
<rect x="1596.50" y="299.00" width="86.10" height="5.00" fill="#fff" />
<text id="lab_c" transform="translate(1405.38,62.60) scale(1.0082,1)" font-family="'Liberation Serif', 'Times New Roman', serif" font-size="47.50" font-weight="bold" fill="#000" >(c)</text>
</g>
<g id="panel-d">
<g clip-path="url(#clipD)">
<rect x="1413.0" y="316.0" width="281.6" height="281.2" filter="url(#f_dmem)"/>
<path d="M1425,382 q8,6 14,14" fill="none" stroke="#8c8c8c" stroke-width="2.20" filter="url(#blur1)" opacity="0.75" stroke-linecap="round"/>
<path d="M1452,352 q10,14 4,28" fill="none" stroke="#8c8c8c" stroke-width="2.20" filter="url(#blur1)" opacity="0.75" stroke-linecap="round"/>
<path d="M1440,470 q-6,14 2,26" fill="none" stroke="#8c8c8c" stroke-width="2.20" filter="url(#blur1)" opacity="0.75" stroke-linecap="round"/>
<path d="M1560,392 q10,4 18,14" fill="none" stroke="#8c8c8c" stroke-width="2.20" filter="url(#blur1)" opacity="0.75" stroke-linecap="round"/>
<path d="M1610,430 q14,-6 26,-2" fill="none" stroke="#8c8c8c" stroke-width="2.20" filter="url(#blur1)" opacity="0.75" stroke-linecap="round"/>
<path d="M1650,470 q-10,12 -6,24" fill="none" stroke="#8c8c8c" stroke-width="2.20" filter="url(#blur1)" opacity="0.75" stroke-linecap="round"/>
<path d="M1600,505 q16,2 26,-8" fill="none" stroke="#8c8c8c" stroke-width="2.20" filter="url(#blur1)" opacity="0.75" stroke-linecap="round"/>
<path d="M1520,520 q20,-4 36,4" fill="none" stroke="#8c8c8c" stroke-width="2.20" filter="url(#blur1)" opacity="0.75" stroke-linecap="round"/>
<path d="M1430,540 q12,-8 22,-4" fill="none" stroke="#8c8c8c" stroke-width="2.20" filter="url(#blur1)" opacity="0.75" stroke-linecap="round"/>
<path d="M1670,420 q8,10 16,8" fill="none" stroke="#8c8c8c" stroke-width="2.20" filter="url(#blur1)" opacity="0.75" stroke-linecap="round"/>
<path d="M1585,468 q10,-10 24,-8" fill="none" stroke="#8c8c8c" stroke-width="2.20" filter="url(#blur1)" opacity="0.75" stroke-linecap="round"/>
<path d="M1540,440 q6,10 2,20" fill="none" stroke="#8c8c8c" stroke-width="2.20" filter="url(#blur1)" opacity="0.75" stroke-linecap="round"/>
<path d="M1630,395 q12,6 10,16" fill="none" stroke="#8c8c8c" stroke-width="2.20" filter="url(#blur1)" opacity="0.75" stroke-linecap="round"/>
<path d="M1470,420 q8,8 6,18" fill="none" stroke="#8c8c8c" stroke-width="2.20" filter="url(#blur1)" opacity="0.75" stroke-linecap="round"/>
<path d="M1662,540 q10,-8 22,-6" fill="none" stroke="#8c8c8c" stroke-width="2.20" filter="url(#blur1)" opacity="0.75" stroke-linecap="round"/>
<path d="M1500,405 q14,2 20,12" fill="none" stroke="#8c8c8c" stroke-width="2.20" filter="url(#blur1)" opacity="0.75" stroke-linecap="round"/>
<path d="M1575,545 q14,-4 28,2" fill="none" stroke="#8c8c8c" stroke-width="2.20" filter="url(#blur1)" opacity="0.75" stroke-linecap="round"/>
<path d="M1455,505 q10,6 20,2" fill="none" stroke="#8c8c8c" stroke-width="2.20" filter="url(#blur1)" opacity="0.75" stroke-linecap="round"/>
<clipPath id="clipDtop"><path d="M1413,315 L1413.0,369.0 L1466.0,370.0 L1497.0,375.0 L1522.0,374.0 L1560.0,367.0 L1591.0,359.0 L1625.0,365.0 L1660.0,367.0 L1694.6,362.0 L1694.6,315 Z"/></clipPath>
<g clip-path="url(#clipDtop)"><rect x="1413.0" y="316.0" width="281.6" height="70" filter="url(#f_dtop)"/>
<rect x="1473.0" y="345" width="190" height="36" fill="#555" opacity="0.45" filter="url(#blur3)"/>
</g>
<path d="M1413.0,369.0 L1466.0,370.0 L1497.0,375.0 L1522.0,374.0 L1560.0,367.0 L1591.0,359.0 L1625.0,365.0 L1660.0,367.0 L1694.6,362.0" fill="none" stroke="#6a6a6a" stroke-width="10.00" filter="url(#blur3)" opacity="0.9"/>
<ellipse cx="1531.0" cy="337.0" rx="26.0" ry="3.8" transform="rotate(12 1531.0 337.0)" fill="#1a1a1a" filter="url(#blur1)"/>
<ellipse cx="1685.0" cy="348.0" rx="12.0" ry="6.5" transform="rotate(0 1685.0 348.0)" fill="#1a1a1a" filter="url(#blur1)"/>
<ellipse cx="1657.0" cy="377.5" rx="25.0" ry="5.6" transform="rotate(-3 1657.0 377.5)" fill="#1a1a1a" filter="url(#blur1)"/>
<ellipse cx="1520.0" cy="380.5" rx="12.0" ry="2.4" transform="rotate(5 1520.0 380.5)" fill="#1a1a1a" filter="url(#blur1)"/>
<ellipse cx="1606.0" cy="360.5" rx="16.0" ry="3.2" transform="rotate(5 1606.0 360.5)" fill="#1a1a1a" filter="url(#blur1)"/>
<g filter="url(#blur1)"><rect x="1413.0" y="560" width="281.6" height="18" filter="url(#f_dbot)"/></g>
<path d="M1413,559.5 L1470,561.5 L1530,563 L1600,560.5 L1694.6,557" fill="none" stroke="#565656" stroke-width="3.40" filter="url(#blur1)"/>
<path d="M1413,575 Q1440,573.5 1470,574 T1540,574.5 T1620,577 T1694.6,575 L1694.6,598 L1413,598 Z" fill="#0b0b0b" stroke="none" stroke-width="1.00" />
</g>
<rect x="1412.00" y="315.00" width="54.00" height="54.20" fill="#fff" />
<line x1="1479.10" y1="411.30" x2="1479.10" y2="526.20" stroke="#18f028" stroke-width="3.00" />
<polygon points="1479.1,376.5 1471.3,420.0 1486.9,420.0" fill="#18f028"/>
<polygon points="1479.1,561.0 1471.3,517.5 1486.9,517.5" fill="#18f028"/>
<line x1="1495.30" y1="357.50" x2="1495.30" y2="377.50" stroke="#d3123a" stroke-width="1.80" />
<line x1="1477.60" y1="562.00" x2="1477.60" y2="580.00" stroke="#d3123a" stroke-width="1.80" />
<text id="d_pt1" transform="translate(1500.00,370.20) scale(0.9518,1)" font-family="'Liberation Serif', 'Times New Roman', serif" font-size="24.80" font-weight="bold" fill="#d3123a" opacity="0.8" filter="url(#blur06)">Pt layer</text>
<text id="d_pt2" transform="translate(1486.00,590.90) scale(0.9855,1)" font-family="'Liberation Serif', 'Times New Roman', serif" font-size="24.80" font-weight="bold" fill="#d3123a" filter="url(#blur04)">Pt layer</text>
<text id="d_n1" transform="translate(1499.00,456.70) scale(1.0000,1)" font-family="'Liberation Serif', 'Times New Roman', serif" font-size="25.80" font-weight="bold" fill="#16d82a" filter="url(#blur04)">N-S<tspan dy="0.25em" font-size="80%">1</tspan><tspan dy="-0.200em">&#8203;</tspan>GO1</text>
<text id="d_n2" transform="translate(1496.42,486.80) scale(0.9812,1)" font-family="'Liberation Serif', 'Times New Roman', serif" font-size="25.80" font-weight="bold" fill="#16d82a" filter="url(#blur04)">membrane</text>
<text id="d_sc" transform="translate(1598.99,570.90) scale(1.0108,1)" font-family="'Liberation Serif', 'Times New Roman', serif" font-size="28.50" font-weight="bold" fill="#fff" filter="url(#blur04)">60 µm</text>
<rect x="1599.70" y="583.90" width="76.00" height="4.90" fill="#fff" />
<text id="lab_d" transform="translate(1407.57,349.70) scale(1.0130,1)" font-family="'Liberation Serif', 'Times New Roman', serif" font-size="47.50" font-weight="bold" fill="#000" >(d)</text>
</g>
<g id="panel-e">
<text id="lab_e" transform="translate(29.78,654.60) scale(1.0082,1)" font-family="'Liberation Serif', 'Times New Roman', serif" font-size="47.50" font-weight="bold" fill="#000" >(e)</text>
<text id="e_peek" transform="translate(25.85,691.70) scale(0.9544,1)" font-family="'Liberation Sans', Arial, Helvetica, sans-serif" font-size="21.60" font-weight="bold" fill="#111" >PEEK</text>
<clipPath id="cd1"><path d="M109,663.4 Q170.8,700.2 233.5,663.4 L233.5,640 L109,640 Z"/></clipPath>
<path clip-path="url(#cd1)" d="M126,680 C145,668 158,652.5 169,651.2 C180,652.5 194,668 212,680 L170,690 Z" fill="url(#g_pow)"/>
<path d="M109,663.4 Q170.8,700.2 233.5,663.4" fill="none" stroke="#0d0d0d" stroke-width="2.70" stroke-linecap="round"/>
<line x1="171.70" y1="691.00" x2="171.70" y2="746.90" stroke="#111" stroke-width="2.30" />
<polygon points="171.70,752.50 168.40,744.50 175.00,744.50" fill="#111"/>
<text id="e_h2so4" transform="translate(103.33,725.00) scale(0.9689,1)" font-family="'Liberation Sans', Arial, Helvetica, sans-serif" font-size="21.60" font-weight="bold" fill="#111" >H<tspan dy="0.36em" font-size="64%">2</tspan><tspan dy="-0.230em">&#8203;</tspan>SO<tspan dy="0.36em" font-size="64%">4</tspan><tspan dy="-0.230em">&#8203;</tspan></text>
<clipPath id="cd2"><path d="M109,772.3 Q170.8,811.1 233.5,772.3 L233.5,750 L109,750 Z"/></clipPath>
<path clip-path="url(#cd2)" d="M126,790 C147,777 158,764.5 169.8,762.6 C181,764.5 194,777 212,790 L170,800 Z" fill="#f0705f"/>
<path d="M150,778 C158,770 164,765 170,764 C176,766 184,772 190,778 Q170,781 150,778Z" fill="#f48776" opacity="0.8"/>
<path d="M109,772.3 Q170.8,811.1 233.5,772.3" fill="none" stroke="#0d0d0d" stroke-width="2.70" stroke-linecap="round"/>
<text id="e_speek1" transform="translate(25.84,809.90) scale(0.9556,1)" font-family="'Liberation Sans', Arial, Helvetica, sans-serif" font-size="21.60" font-weight="bold" fill="#111" ><tspan fill="#e8364a">S</tspan>PEEK</text>
<line x1="172.60" y1="810.00" x2="172.60" y2="865.40" stroke="#111" stroke-width="2.30" />
<polygon points="172.60,871.00 169.30,863.00 175.90,863.00" fill="#111"/>
<text id="e_dmac1" transform="translate(105.04,852.90) scale(0.9567,1)" font-family="'Liberation Sans', Arial, Helvetica, sans-serif" font-size="21.60" font-weight="bold" fill="#111" >DMAc</text>
<clipPath id="cb_b1"><path d="M163.3,880.2 L178.3,880.2 L178.3,885.7 C178.3,888.7 183.1,887.7 183.1,894.2 L183.1,933.8 Q183.1,942.8 175.1,942.8 L166.5,942.8 Q158.5,942.8 158.5,933.8 L158.5,894.2 C158.5,887.7 163.3,888.7 163.3,885.7 Z"/></clipPath>
<path d="M163.3,880.2 L178.3,880.2 L178.3,885.7 C178.3,888.7 183.1,887.7 183.1,894.2 L183.1,933.8 Q183.1,942.8 175.1,942.8 L166.5,942.8 Q158.5,942.8 158.5,933.8 L158.5,894.2 C158.5,887.7 163.3,888.7 163.3,885.7 Z" fill="#fff"/>
<rect x="158.5" y="917.5" width="24.6" height="25.3" fill="url(#g_liqO)" clip-path="url(#cb_b1)"/>
<rect x="166.3" y="936.6" width="9" height="2.2" rx="1" fill="#fff" opacity="0.9"/>
<path d="M163.3,880.2 L178.3,880.2 L178.3,885.7 C178.3,888.7 183.1,887.7 183.1,894.2 L183.1,933.8 Q183.1,942.8 175.1,942.8 L166.5,942.8 Q158.5,942.8 158.5,933.8 L158.5,894.2 C158.5,887.7 163.3,888.7 163.3,885.7 Z" fill="none" stroke="#2a2a2a" stroke-width="1.5"/>
<line x1="162.70" y1="880.70" x2="178.90" y2="880.70" stroke="#2a2a2a" stroke-width="1.60" />
<path d="M153.5,944.3 L189.2,944.3 L192.2,949.8 L150.5,949.8 Z" fill="#aab0b8"/>
<rect x="150.50" y="949.30" width="41.70" height="14.50" fill="url(#g_plate)" />
<rect x="164.47" y="952.90" width="13.76" height="8.50" fill="#e9e9e2" />
<text id="e_speek2" transform="translate(25.84,935.00) scale(0.9556,1)" font-family="'Liberation Sans', Arial, Helvetica, sans-serif" font-size="21.60" font-weight="bold" fill="#111" ><tspan fill="#e8364a">S</tspan>PEEK</text>
<text id="e_solution" transform="translate(25.84,973.20) scale(0.9610,1)" font-family="'Liberation Sans', Arial, Helvetica, sans-serif" font-size="21.60" font-weight="bold" fill="#111" >solution</text>
<line x1="183.20" y1="940.30" x2="238.21" y2="1019.62" stroke="#111" stroke-width="2.30" />
<polygon points="241.80,1024.80 233.88,1019.34 239.47,1015.47" fill="#111"/>
<path d="M317,640.2 C335,644 355,643 376.6,650.8 L375.6,682.4 C355,677 332,675 309.3,666.8 Z" fill="url(#g_max)"/>
<text id="e_max" transform="translate(417.44,682.30) scale(0.9565,1)" font-family="'Liberation Sans', Arial, Helvetica, sans-serif" font-size="21.60" font-weight="bold" fill="#111" >MAX phase</text>
<text id="e_hcl" transform="translate(265.34,701.10) scale(0.9554,1)" font-family="'Liberation Sans', Arial, Helvetica, sans-serif" font-size="21.60" font-weight="bold" fill="#111" >HCl/LiF</text>
<line x1="348.60" y1="683.00" x2="348.60" y2="711.40" stroke="#111" stroke-width="2.30" />
<polygon points="348.60,717.00 345.30,709.00 351.90,709.00" fill="#111"/>
<path d="M314,715.6 C330,712 342,722 356,719.5 C366,717.5 372,718 380.2,724 L377.4,757 C366,750 356,752 344,750.5 C330,748 318,738.5 303.5,741.8 Z" fill="url(#g_mx)"/>
<text id="e_mxene" transform="translate(418.44,746.00) scale(0.9559,1)" font-family="'Liberation Sans', Arial, Helvetica, sans-serif" font-size="21.60" font-weight="bold" fill="#111" >MXene</text>
<text id="e_cuoac" transform="translate(255.84,776.70) scale(0.9564,1)" font-family="'Liberation Sans', Arial, Helvetica, sans-serif" font-size="21.60" font-weight="bold" fill="#111" >Cu(OAc)<tspan dy="0.36em" font-size="64%">2</tspan><tspan dy="-0.230em">&#8203;</tspan></text>
<text id="e_gluc" transform="translate(354.31,785.20) scale(0.9935,1)" font-family="'Liberation Sans', Arial, Helvetica, sans-serif" font-size="21.60" font-weight="bold" fill="#111" >C<tspan dy="0.36em" font-size="64%">6</tspan><tspan dy="-0.230em">&#8203;</tspan>H<tspan dy="0.36em" font-size="64%">12</tspan><tspan dy="-0.230em">&#8203;</tspan>O<tspan dy="0.36em" font-size="64%">6</tspan><tspan dy="-0.230em">&#8203;</tspan></text>
<line x1="350.00" y1="757.70" x2="350.00" y2="790.90" stroke="#111" stroke-width="2.30" />
<polygon points="350.00,796.50 346.70,788.50 353.30,788.50" fill="#111"/>
<path d="M314,797 C330,793 342,803 356,800.5 C366,798.5 372,799 381,805 L378,840.5 C366,833 356,835 344,833.5 C330,831 318,821.5 303.5,824.8 Z" fill="#8f959c"/>
<path d="M314,792.4 C330,788.4 342,798.4 356,795.9 C366,793.9 372,794.4 381.4,799 L378.2,833 C366,826 356,828 344,826.5 C330,824 318,814.5 303.7,817.8 Z" fill="url(#g_mxcu)"/>
<circle cx="319.5" cy="796.5" r="2.5" fill="#f2604e"/><circle cx="319.5" cy="796.5" r="1.0" fill="#fbd0cc"/>
<circle cx="331.0" cy="795.5" r="2.5" fill="#f2604e"/><circle cx="331.0" cy="795.5" r="1.0" fill="#fbd0cc"/>
<circle cx="350.5" cy="799.5" r="2.5" fill="#f2604e"/><circle cx="350.5" cy="799.5" r="1.0" fill="#fbd0cc"/>
<circle cx="375.0" cy="799.0" r="2.5" fill="#f2604e"/><circle cx="375.0" cy="799.0" r="1.0" fill="#fbd0cc"/>
<circle cx="317.0" cy="806.5" r="2.5" fill="#f2604e"/><circle cx="317.0" cy="806.5" r="1.0" fill="#fbd0cc"/>
<circle cx="327.5" cy="811.0" r="2.5" fill="#f2604e"/><circle cx="327.5" cy="811.0" r="1.0" fill="#fbd0cc"/>
<circle cx="336.5" cy="807.5" r="2.5" fill="#f2604e"/><circle cx="336.5" cy="807.5" r="1.0" fill="#fbd0cc"/>
<circle cx="363.0" cy="805.5" r="2.5" fill="#f2604e"/><circle cx="363.0" cy="805.5" r="1.0" fill="#fbd0cc"/>
<circle cx="310.0" cy="815.5" r="2.5" fill="#f2604e"/><circle cx="310.0" cy="815.5" r="1.0" fill="#fbd0cc"/>
<circle cx="341.0" cy="815.0" r="2.5" fill="#f2604e"/><circle cx="341.0" cy="815.0" r="1.0" fill="#fbd0cc"/>
<circle cx="351.5" cy="812.0" r="2.5" fill="#f2604e"/><circle cx="351.5" cy="812.0" r="1.0" fill="#fbd0cc"/>
<circle cx="359.5" cy="810.5" r="2.5" fill="#f2604e"/><circle cx="359.5" cy="810.5" r="1.0" fill="#fbd0cc"/>
<circle cx="373.5" cy="810.5" r="2.5" fill="#f2604e"/><circle cx="373.5" cy="810.5" r="1.0" fill="#fbd0cc"/>
<circle cx="349.0" cy="824.0" r="2.5" fill="#f2604e"/><circle cx="349.0" cy="824.0" r="1.0" fill="#fbd0cc"/>
<circle cx="361.0" cy="822.0" r="2.5" fill="#f2604e"/><circle cx="361.0" cy="822.0" r="1.0" fill="#fbd0cc"/>
<circle cx="372.5" cy="825.0" r="2.5" fill="#f2604e"/><circle cx="372.5" cy="825.0" r="1.0" fill="#fbd0cc"/>
<circle cx="333.0" cy="820.0" r="2.5" fill="#f2604e"/><circle cx="333.0" cy="820.0" r="1.0" fill="#fbd0cc"/>
<circle cx="323.0" cy="801.0" r="2.5" fill="#f2604e"/><circle cx="323.0" cy="801.0" r="1.0" fill="#fbd0cc"/>
<text id="e_mxcu1" transform="translate(420.34,828.30) scale(0.9570,1)" font-family="'Liberation Sans', Arial, Helvetica, sans-serif" font-size="21.60" font-weight="bold" fill="#111" >MXene-Cu<tspan dy="0.36em" font-size="64%">2</tspan><tspan dy="-0.230em">&#8203;</tspan>O</text>
<text id="e_dmac2" transform="translate(278.45,867.50) scale(0.9467,1)" font-family="'Liberation Sans', Arial, Helvetica, sans-serif" font-size="21.60" font-weight="bold" fill="#111" >DMAc</text>
<line x1="345.70" y1="843.40" x2="345.70" y2="872.60" stroke="#111" stroke-width="2.30" />
<polygon points="345.70,878.20 342.40,870.20 349.00,870.20" fill="#111"/>
<clipPath id="cb_b2"><path d="M338.6,880.7 L353.6,880.7 L353.6,886.2 C353.6,889.2 358.4,888.2 358.4,894.7 L358.4,934.0 Q358.4,943.0 350.4,943.0 L341.8,943.0 Q333.8,943.0 333.8,934.0 L333.8,894.7 C333.8,888.2 338.6,889.2 338.6,886.2 Z"/></clipPath>
<path d="M338.6,880.7 L353.6,880.7 L353.6,886.2 C353.6,889.2 358.4,888.2 358.4,894.7 L358.4,934.0 Q358.4,943.0 350.4,943.0 L341.8,943.0 Q333.8,943.0 333.8,934.0 L333.8,894.7 C333.8,888.2 338.6,889.2 338.6,886.2 Z" fill="#fff"/>
<rect x="333.8" y="919.0" width="24.6" height="24.0" fill="url(#g_liqG)" clip-path="url(#cb_b2)"/>
<rect x="341.6" y="936.8" width="9" height="2.2" rx="1" fill="#fff" opacity="0.9"/>
<path d="M338.6,880.7 L353.6,880.7 L353.6,886.2 C353.6,889.2 358.4,888.2 358.4,894.7 L358.4,934.0 Q358.4,943.0 350.4,943.0 L341.8,943.0 Q333.8,943.0 333.8,934.0 L333.8,894.7 C333.8,888.2 338.6,889.2 338.6,886.2 Z" fill="none" stroke="#2a2a2a" stroke-width="1.5"/>
<line x1="338.00" y1="881.20" x2="354.20" y2="881.20" stroke="#2a2a2a" stroke-width="1.60" />
<path d="M328.3,943.8 L364.4,943.8 L367.4,949.3 L325.3,949.3 Z" fill="#aab0b8"/>
<rect x="325.30" y="948.80" width="42.10" height="15.10" fill="url(#g_plate)" />
<rect x="339.40" y="952.40" width="13.89" height="9.10" fill="#e9e9e2" />
<text id="e_mxcu2" transform="translate(418.43,935.00) scale(0.9719,1)" font-family="'Liberation Sans', Arial, Helvetica, sans-serif" font-size="21.60" font-weight="bold" fill="#111" >MXene-Cu<tspan dy="0.36em" font-size="64%">2</tspan><tspan dy="-0.230em">&#8203;</tspan>O</text>
<text id="e_disp1" transform="translate(418.43,973.20) scale(0.9654,1)" font-family="'Liberation Sans', Arial, Helvetica, sans-serif" font-size="21.60" font-weight="bold" fill="#111" >dispersion</text>
<line x1="334.60" y1="933.80" x2="293.07" y2="1018.54" stroke="#111" stroke-width="2.30" />
<polygon points="290.30,1024.20 291.21,1014.62 297.31,1017.61" fill="#111"/>
<clipPath id="cb_b3"><path d="M259.8,989.0 L274.8,989.0 L274.8,994.5 C274.8,997.5 279.6,996.5 279.6,1003.0 L279.6,1044.0 Q279.6,1053.0 271.6,1053.0 L263.0,1053.0 Q255.0,1053.0 255.0,1044.0 L255.0,1003.0 C255.0,996.5 259.8,997.5 259.8,994.5 Z"/></clipPath>
<path d="M259.8,989.0 L274.8,989.0 L274.8,994.5 C274.8,997.5 279.6,996.5 279.6,1003.0 L279.6,1044.0 Q279.6,1053.0 271.6,1053.0 L263.0,1053.0 Q255.0,1053.0 255.0,1044.0 L255.0,1003.0 C255.0,996.5 259.8,997.5 259.8,994.5 Z" fill="#fff"/>
<rect x="255.0" y="1027.6" width="24.6" height="25.4" fill="url(#g_liqB)" clip-path="url(#cb_b3)"/>
<rect x="262.8" y="1046.8" width="9" height="2.2" rx="1" fill="#fff" opacity="0.9"/>
<path d="M259.8,989.0 L274.8,989.0 L274.8,994.5 C274.8,997.5 279.6,996.5 279.6,1003.0 L279.6,1044.0 Q279.6,1053.0 271.6,1053.0 L263.0,1053.0 Q255.0,1053.0 255.0,1044.0 L255.0,1003.0 C255.0,996.5 259.8,997.5 259.8,994.5 Z" fill="none" stroke="#2a2a2a" stroke-width="1.5"/>
<line x1="259.20" y1="989.50" x2="275.40" y2="989.50" stroke="#2a2a2a" stroke-width="1.60" />
<path d="M249.2,1053.6 L285.9,1053.6 L288.9,1059.1 L246.2,1059.1 Z" fill="#aab0b8"/>
<rect x="246.20" y="1058.60" width="42.70" height="13.60" fill="url(#g_plate)" />
<rect x="260.50" y="1062.20" width="14.09" height="7.60" fill="#e9e9e2" />
<line x1="260.70" y1="1080.30" x2="260.70" y2="1097.45" stroke="#111" stroke-width="1.90" />
<polygon points="260.70,1102.00 257.90,1095.50 263.50,1095.50" fill="#111"/>
<line x1="270.70" y1="1102.70" x2="270.70" y2="1083.55" stroke="#111" stroke-width="1.90" />
<polygon points="270.70,1079.00 273.50,1085.50 267.90,1085.50" fill="#111"/>
<path d="M215.2,1126.5 C224,1124 232,1128 240,1131.5 C250,1135.5 258,1128 268,1130 C280,1132 288,1136 298,1131 C306,1127 312,1126 318.7,1125.5 L318.7,1201 L215.2,1201 Z" fill="url(#g_water)"/>
<path d="M215.2,1126.5 C224,1124 232,1128 240,1131.5 C250,1135.5 258,1128 268,1130 C280,1132 288,1136 298,1131 C306,1127 312,1126 318.7,1125.5 L318.7,1131 C310,1131 304,1136 296,1138 C286,1140 280,1135 268,1135 C258,1135 250,1140 240,1137 C232,1134 224,1130 215.2,1132 Z" fill="#c6c9d8" opacity="0.9"/>
<clipPath id="cb_b4"><path d="M259.8,1106.0 L274.8,1106.0 L274.8,1111.5 C274.8,1114.5 279.6,1113.5 279.6,1120.0 L279.6,1160.2 Q279.6,1169.2 271.6,1169.2 L263.0,1169.2 Q255.0,1169.2 255.0,1160.2 L255.0,1120.0 C255.0,1113.5 259.8,1114.5 259.8,1111.5 Z"/></clipPath>
<path d="M259.8,1106.0 L274.8,1106.0 L274.8,1111.5 C274.8,1114.5 279.6,1113.5 279.6,1120.0 L279.6,1160.2 Q279.6,1169.2 271.6,1169.2 L263.0,1169.2 Q255.0,1169.2 255.0,1160.2 L255.0,1120.0 C255.0,1113.5 259.8,1114.5 259.8,1111.5 Z" fill="#fff"/>
<rect x="255.0" y="1144.4" width="24.6" height="24.8" fill="url(#g_liqB)" clip-path="url(#cb_b4)"/>
<rect x="262.8" y="1163.0" width="9" height="2.2" rx="1" fill="#fff" opacity="0.9"/>
<path d="M259.8,1106.0 L274.8,1106.0 L274.8,1111.5 C274.8,1114.5 279.6,1113.5 279.6,1120.0 L279.6,1160.2 Q279.6,1169.2 271.6,1169.2 L263.0,1169.2 Q255.0,1169.2 255.0,1160.2 L255.0,1120.0 C255.0,1113.5 259.8,1114.5 259.8,1111.5 Z" fill="none" stroke="#2a2a2a" stroke-width="1.5"/>
<line x1="259.20" y1="1106.50" x2="275.40" y2="1106.50" stroke="#2a2a2a" stroke-width="1.60" />
<path d="M253.47,1191.77 A18.0,18.0 0 0 1 278.93,1191.77" fill="none" stroke="#0e1a33" stroke-width="2.70" stroke-linecap="round"/>
<path d="M248.65,1188.13 A24.0,24.0 0 0 1 283.75,1188.13" fill="none" stroke="#0e1a33" stroke-width="2.70" stroke-linecap="round"/>
<path d="M256.8,1201.4 A10.2,10.2 0 0 1 275.6,1201.4" fill="#5fb4ea" stroke="#0e1a33" stroke-width="2.60" />
<rect x="256.40" y="1200.40" width="19.60" height="2.80" fill="#161010" />
<rect x="260.60" y="1202.50" width="3.30" height="13.20" fill="#161010" />
<rect x="267.70" y="1202.50" width="3.30" height="13.20" fill="#161010" />
<rect x="260.60" y="1214.20" width="10.40" height="1.80" fill="#161010" />
<path d="M325.3,1003.8 L351.5,1003.8 Q354.8,1003.8 354.8,1007.2 L354.8,1190 Q354.8,1193.4 351.5,1193.4 L325.3,1193.4" fill="none" stroke="#161616" stroke-width="2.50" />
<line x1="354.80" y1="1091.40" x2="384.80" y2="1091.40" stroke="#111" stroke-width="2.00" />
<polygon points="390.40,1091.40 382.40,1094.50 382.40,1088.30" fill="#111"/>
<text id="e_mcs1" transform="translate(416.94,1077.60) scale(0.9596,1)" font-family="'Liberation Sans', Arial, Helvetica, sans-serif" font-size="21.60" font-weight="bold" fill="#111" >MXene-Cu<tspan dy="0.36em" font-size="64%">2</tspan><tspan dy="-0.230em">&#8203;</tspan>O/SPEEK</text>
<text id="e_disp2" transform="translate(416.94,1115.90) scale(0.9617,1)" font-family="'Liberation Sans', Arial, Helvetica, sans-serif" font-size="21.60" font-weight="bold" fill="#111" >dispersion</text>
<text id="e_cast" transform="translate(636.03,1074.30) scale(0.9690,1)" font-family="'Liberation Sans', Arial, Helvetica, sans-serif" font-size="20.00" font-weight="bold" fill="#111" >Casting</text>
<line x1="637.70" y1="1083.40" x2="692.30" y2="1083.40" stroke="#111" stroke-width="1.80" />
<polygon points="697.20,1083.40 690.20,1086.10 690.20,1080.70" fill="#111"/>
<text id="e_cure" transform="translate(640.94,1106.70) scale(0.9581,1)" font-family="'Liberation Sans', Arial, Helvetica, sans-serif" font-size="20.00" font-weight="bold" fill="#111" >Curing</text>
<ellipse cx="822" cy="1021.5" rx="79" ry="18.5" fill="#e4e4e6" filter="url(#blur2)"/>
<ellipse cx="822" cy="1020.5" rx="76.5" ry="17.5" fill="#dcdcde"/>
<ellipse cx="823" cy="1017.2" rx="74.5" ry="16.8" fill="url(#g_disc)"/>
<text id="e_mcs2" transform="translate(726.34,1076.90) scale(0.9582,1)" font-family="'Liberation Sans', Arial, Helvetica, sans-serif" font-size="21.60" font-weight="bold" fill="#111" >MXene-Cu<tspan dy="0.36em" font-size="64%">2</tspan><tspan dy="-0.230em">&#8203;</tspan>O/<tspan fill="#e8364a">S</tspan>PEEK</text>
<text id="e_hyb" transform="translate(771.74,1113.90) scale(0.9605,1)" font-family="'Liberation Sans', Arial, Helvetica, sans-serif" font-size="21.60" font-weight="bold" fill="#111" >Hybrid PEM</text>
</g>
<g id="panel-f">
<line x1="1088.90" y1="1106.00" x2="1106.90" y2="1106.00" stroke="#222" stroke-width="1.60" />
<line x1="1599.00" y1="1106.00" x2="1616.50" y2="1106.00" stroke="#222" stroke-width="1.60" />
<line x1="1090.40" y1="1083.06" x2="1098.40" y2="1083.06" stroke="#333" stroke-width="1.30" />
<line x1="1608.00" y1="1083.06" x2="1615.50" y2="1083.06" stroke="#333" stroke-width="1.30" />
<line x1="1090.40" y1="1060.12" x2="1098.40" y2="1060.12" stroke="#333" stroke-width="1.30" />
<line x1="1608.00" y1="1060.12" x2="1615.50" y2="1060.12" stroke="#333" stroke-width="1.30" />
<line x1="1090.40" y1="1037.18" x2="1098.40" y2="1037.18" stroke="#333" stroke-width="1.30" />
<line x1="1608.00" y1="1037.18" x2="1615.50" y2="1037.18" stroke="#333" stroke-width="1.30" />
<line x1="1090.40" y1="1014.24" x2="1098.40" y2="1014.24" stroke="#333" stroke-width="1.30" />
<line x1="1608.00" y1="1014.24" x2="1615.50" y2="1014.24" stroke="#333" stroke-width="1.30" />
<line x1="1088.90" y1="991.30" x2="1106.90" y2="991.30" stroke="#222" stroke-width="1.60" />
<line x1="1599.00" y1="991.30" x2="1616.50" y2="991.30" stroke="#222" stroke-width="1.60" />
<line x1="1090.40" y1="968.36" x2="1098.40" y2="968.36" stroke="#333" stroke-width="1.30" />
<line x1="1608.00" y1="968.36" x2="1615.50" y2="968.36" stroke="#333" stroke-width="1.30" />
<line x1="1090.40" y1="945.42" x2="1098.40" y2="945.42" stroke="#333" stroke-width="1.30" />
<line x1="1608.00" y1="945.42" x2="1615.50" y2="945.42" stroke="#333" stroke-width="1.30" />
<line x1="1090.40" y1="922.48" x2="1098.40" y2="922.48" stroke="#333" stroke-width="1.30" />
<line x1="1608.00" y1="922.48" x2="1615.50" y2="922.48" stroke="#333" stroke-width="1.30" />
<line x1="1090.40" y1="899.54" x2="1098.40" y2="899.54" stroke="#333" stroke-width="1.30" />
<line x1="1608.00" y1="899.54" x2="1615.50" y2="899.54" stroke="#333" stroke-width="1.30" />
<line x1="1088.90" y1="876.60" x2="1106.90" y2="876.60" stroke="#222" stroke-width="1.60" />
<line x1="1599.00" y1="876.60" x2="1616.50" y2="876.60" stroke="#222" stroke-width="1.60" />
<line x1="1090.40" y1="853.66" x2="1098.40" y2="853.66" stroke="#333" stroke-width="1.30" />
<line x1="1608.00" y1="853.66" x2="1615.50" y2="853.66" stroke="#333" stroke-width="1.30" />
<line x1="1090.40" y1="830.72" x2="1098.40" y2="830.72" stroke="#333" stroke-width="1.30" />
<line x1="1608.00" y1="830.72" x2="1615.50" y2="830.72" stroke="#333" stroke-width="1.30" />
<line x1="1090.40" y1="807.78" x2="1098.40" y2="807.78" stroke="#333" stroke-width="1.30" />
<line x1="1608.00" y1="807.78" x2="1615.50" y2="807.78" stroke="#333" stroke-width="1.30" />
<line x1="1090.40" y1="784.84" x2="1098.40" y2="784.84" stroke="#333" stroke-width="1.30" />
<line x1="1608.00" y1="784.84" x2="1615.50" y2="784.84" stroke="#333" stroke-width="1.30" />
<line x1="1088.90" y1="761.90" x2="1106.90" y2="761.90" stroke="#222" stroke-width="1.60" />
<line x1="1599.00" y1="761.90" x2="1616.50" y2="761.90" stroke="#222" stroke-width="1.60" />
<line x1="1090.40" y1="738.96" x2="1098.40" y2="738.96" stroke="#333" stroke-width="1.30" />
<line x1="1608.00" y1="738.96" x2="1615.50" y2="738.96" stroke="#333" stroke-width="1.30" />
<line x1="1090.40" y1="716.02" x2="1098.40" y2="716.02" stroke="#333" stroke-width="1.30" />
<line x1="1608.00" y1="716.02" x2="1615.50" y2="716.02" stroke="#333" stroke-width="1.30" />
<line x1="1090.40" y1="693.08" x2="1098.40" y2="693.08" stroke="#333" stroke-width="1.30" />
<line x1="1608.00" y1="693.08" x2="1615.50" y2="693.08" stroke="#333" stroke-width="1.30" />
<line x1="1090.40" y1="670.14" x2="1098.40" y2="670.14" stroke="#333" stroke-width="1.30" />
<line x1="1608.00" y1="670.14" x2="1615.50" y2="670.14" stroke="#333" stroke-width="1.30" />
<line x1="1088.90" y1="646.20" x2="1106.90" y2="646.20" stroke="#222" stroke-width="1.60" />
<line x1="1599.00" y1="646.20" x2="1616.50" y2="646.20" stroke="#222" stroke-width="1.60" />
<line x1="1161.30" y1="1099.70" x2="1161.30" y2="1113.20" stroke="#222" stroke-width="1.60" />
<line x1="1288.80" y1="1099.70" x2="1288.80" y2="1113.20" stroke="#222" stroke-width="1.60" />
<line x1="1415.80" y1="1099.70" x2="1415.80" y2="1113.20" stroke="#222" stroke-width="1.60" />
<line x1="1543.70" y1="1099.70" x2="1543.70" y2="1113.20" stroke="#222" stroke-width="1.60" />
<line x1="1606.50" y1="1099.70" x2="1606.50" y2="1113.20" stroke="#222" stroke-width="1.60" />
<line x1="1098.40" y1="644.40" x2="1098.40" y2="1107.80" stroke="#000" stroke-width="3.30" />
<line x1="1098.40" y1="646.00" x2="1608.00" y2="646.00" stroke="#000" stroke-width="3.30" />
<line x1="1098.40" y1="1106.20" x2="1608.00" y2="1106.20" stroke="#000" stroke-width="3.20" />
<line x1="1608.00" y1="644.40" x2="1608.00" y2="1107.80" stroke="#000" stroke-width="4.60" />
<line x1="1161.30" y1="811.00" x2="1161.30" y2="943.40" stroke="#5a5a5a" stroke-width="1.20" />
<line x1="1157.10" y1="811.00" x2="1165.50" y2="811.00" stroke="#5a5a5a" stroke-width="1.20" />
<line x1="1157.10" y1="943.40" x2="1165.50" y2="943.40" stroke="#5a5a5a" stroke-width="1.20" />
<line x1="1288.80" y1="920.50" x2="1288.80" y2="968.60" stroke="#5a5a5a" stroke-width="1.20" />
<line x1="1284.60" y1="920.50" x2="1293.00" y2="920.50" stroke="#5a5a5a" stroke-width="1.20" />
<line x1="1284.60" y1="968.60" x2="1293.00" y2="968.60" stroke="#5a5a5a" stroke-width="1.20" />
<line x1="1415.80" y1="836.30" x2="1415.80" y2="895.80" stroke="#5a5a5a" stroke-width="1.20" />
<line x1="1411.60" y1="836.30" x2="1420.00" y2="836.30" stroke="#5a5a5a" stroke-width="1.20" />
<line x1="1411.60" y1="895.80" x2="1420.00" y2="895.80" stroke="#5a5a5a" stroke-width="1.20" />
<line x1="1543.70" y1="839.70" x2="1543.70" y2="928.50" stroke="#5a5a5a" stroke-width="1.20" />
<line x1="1539.50" y1="839.70" x2="1547.90" y2="839.70" stroke="#5a5a5a" stroke-width="1.20" />
<line x1="1539.50" y1="928.50" x2="1547.90" y2="928.50" stroke="#5a5a5a" stroke-width="1.20" />
<line x1="1288.80" y1="710.50" x2="1288.80" y2="720.50" stroke="#777" stroke-width="1.20" />
<line x1="1284.60" y1="710.50" x2="1293.00" y2="710.50" stroke="#777" stroke-width="1.20" />
<line x1="1284.60" y1="720.50" x2="1293.00" y2="720.50" stroke="#777" stroke-width="1.20" />
<line x1="1415.80" y1="717.50" x2="1415.80" y2="728.50" stroke="#777" stroke-width="1.20" />
<line x1="1411.60" y1="717.50" x2="1420.00" y2="717.50" stroke="#777" stroke-width="1.20" />
<line x1="1411.60" y1="728.50" x2="1420.00" y2="728.50" stroke="#777" stroke-width="1.20" />
<line x1="1543.70" y1="700.20" x2="1543.70" y2="718.20" stroke="#666" stroke-width="1.20" />
<line x1="1539.50" y1="700.20" x2="1547.90" y2="700.20" stroke="#666" stroke-width="1.20" />
<line x1="1539.50" y1="718.20" x2="1547.90" y2="718.20" stroke="#666" stroke-width="1.20" />
<path d="M1161.3,713.5 L1288.8,715.6 L1415.8,723.0 L1543.7,709.6" fill="none" stroke="#c4272b" stroke-width="3.60" stroke-linejoin="round"/>
<rect x="1155.50" y="707.70" width="11.60" height="11.60" fill="#c4272b" />
<rect x="1283.00" y="709.80" width="11.60" height="11.60" fill="#c4272b" />
<rect x="1410.00" y="717.20" width="11.60" height="11.60" fill="#c4272b" />
<rect x="1537.90" y="703.80" width="11.60" height="11.60" fill="#c4272b" />
<path d="M1161.3,876.5 L1288.8,945.3 L1415.8,865.7 L1543.7,884.5" fill="none" stroke="#000" stroke-width="3.60" stroke-linejoin="round"/>
<rect x="1156.30" y="871.50" width="10.00" height="10.00" fill="#000" />
<rect x="1283.80" y="940.30" width="10.00" height="10.00" fill="#000" />
<rect x="1410.80" y="860.70" width="10.00" height="10.00" fill="#000" />
<rect x="1538.70" y="879.50" width="10.00" height="10.00" fill="#000" />
<path d="M1242.7,925.5 L1242.7,973.5 L1175,973.5" fill="none" stroke="#111" stroke-width="2.00" stroke-dasharray="5.2 2.8"/>
<path d="M1189.5,965.2 L1174,973.5 L1189.5,981.8" fill="none" stroke="#111" stroke-width="2.00" stroke-linejoin="miter"/>
<path d="M1476.2,717.5 L1476.2,762.6 L1542,762.6" fill="none" stroke="#c4272b" stroke-width="2.00" stroke-dasharray="5.2 2.8"/>
<path d="M1528.5,753.8 L1544,762.6 L1528.5,771.4" fill="none" stroke="#c4272b" stroke-width="2.00" />
<text id="f_y0.020" transform="translate(998.23,655.30) scale(0.9730,1)" font-family="'Liberation Sans', Arial, Helvetica, sans-serif" font-size="30.60" font-weight="bold" fill="#000" >0.020</text>
<text id="f_y0.015" transform="translate(998.24,771.70) scale(0.9600,1)" font-family="'Liberation Sans', Arial, Helvetica, sans-serif" font-size="30.60" font-weight="bold" fill="#000" >0.015</text>
<text id="f_y0.010" transform="translate(998.23,886.40) scale(0.9730,1)" font-family="'Liberation Sans', Arial, Helvetica, sans-serif" font-size="30.60" font-weight="bold" fill="#000" >0.010</text>
<text id="f_y0.005" transform="translate(998.24,1001.10) scale(0.9600,1)" font-family="'Liberation Sans', Arial, Helvetica, sans-serif" font-size="30.60" font-weight="bold" fill="#000" >0.005</text>
<text transform="translate(1070.00,1115.80) scale(1.0000,1)" text-anchor="middle" font-family="'Liberation Sans', Arial, Helvetica, sans-serif" font-size="30.60" font-weight="bold" fill="#000">0</text>
<text id="f_r2.0" transform="translate(1633.02,655.30) scale(0.9800,1)" font-family="'Liberation Sans', Arial, Helvetica, sans-serif" font-size="30.60" font-weight="bold" fill="#c4272b" >2.0</text>
<text id="f_r1.5" transform="translate(1632.04,771.70) scale(0.9800,1)" font-family="'Liberation Sans', Arial, Helvetica, sans-serif" font-size="30.60" font-weight="bold" fill="#c4272b" >1.5</text>
<text id="f_r1.0" transform="translate(1631.99,886.40) scale(1.0051,1)" font-family="'Liberation Sans', Arial, Helvetica, sans-serif" font-size="30.60" font-weight="bold" fill="#c4272b" >1.0</text>
<text id="f_r0.5" transform="translate(1633.04,1001.10) scale(0.9561,1)" font-family="'Liberation Sans', Arial, Helvetica, sans-serif" font-size="30.60" font-weight="bold" fill="#c4272b" >0.5</text>
<text id="f_r0.0" transform="translate(1633.02,1115.80) scale(0.9800,1)" font-family="'Liberation Sans', Arial, Helvetica, sans-serif" font-size="30.60" font-weight="bold" fill="#c4272b" >0.0</text>
<text transform="translate(1161.30,1151.20) scale(1.0000,1)" text-anchor="middle" font-family="'Liberation Sans', Arial, Helvetica, sans-serif" font-size="30.60" font-weight="bold" fill="#000">0</text>
<text transform="translate(1288.80,1151.20) scale(1.0000,1)" text-anchor="middle" font-family="'Liberation Sans', Arial, Helvetica, sans-serif" font-size="30.60" font-weight="bold" fill="#000">2</text>
<text transform="translate(1415.80,1151.20) scale(1.0000,1)" text-anchor="middle" font-family="'Liberation Sans', Arial, Helvetica, sans-serif" font-size="30.60" font-weight="bold" fill="#000">4</text>
<text transform="translate(1543.70,1151.20) scale(1.0000,1)" text-anchor="middle" font-family="'Liberation Sans', Arial, Helvetica, sans-serif" font-size="30.60" font-weight="bold" fill="#000">6</text>
<text id="f_xl" transform="translate(1141.00,1190.40) scale(1.0048,1)" font-family="'Liberation Sans', Arial, Helvetica, sans-serif" font-size="29.80" font-weight="bold" fill="#000" >Amount of Mxene-Cu<tspan dy="0.38em" font-size="62%">2</tspan><tspan dy="-0.236em">&#8203;</tspan>O (wt%)</text>
<text id="f_yl" transform="translate(975.60,1089.30) rotate(-90) scale(0.9993,1)" font-family="'Liberation Sans', Arial, Helvetica, sans-serif" font-size="29.80" font-weight="bold" fill="#000" >Proton Conductivity (S cm<tspan dy="-0.55em" font-size="60%">−1</tspan><tspan dy="0.330em">&#8203;</tspan>)</text>
<text id="f_yr" transform="translate(1711.50,980.52) rotate(-90) scale(1.0093,1)" font-family="'Liberation Sans', Arial, Helvetica, sans-serif" font-size="29.80" font-weight="bold" fill="#c4272b" >IEC (meq g<tspan dy="-0.55em" font-size="60%">−1</tspan><tspan dy="0.330em">&#8203;</tspan>)</text>
<text id="lab_f" transform="translate(936.98,658.50) scale(1.0114,1)" font-family="'Liberation Serif', 'Times New Roman', serif" font-size="47.50" font-weight="bold" fill="#000" >(f)</text>
</g>
</svg>
</body></html>
